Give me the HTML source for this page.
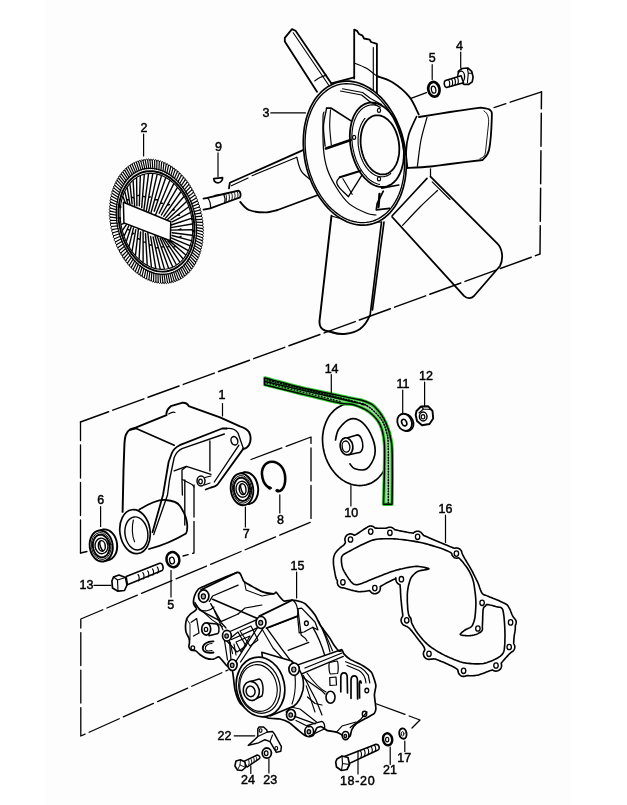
<!DOCTYPE html>
<html><head><meta charset="utf-8">
<style>
html,body{margin:0;padding:0;background:#fff;width:627px;height:805px;overflow:hidden}
svg{display:block;will-change:transform}
text{font-family:"Liberation Sans",sans-serif;font-size:12.5px;fill:#000;stroke:#000;stroke-width:0.45px;text-anchor:middle}
</style></head><body>
<svg width="627" height="805" viewBox="0 0 627 805">
<rect width="627" height="805" fill="#fff"/>
<rect x="46" y="0" width="525" height="805" fill="#fdfdfd"/>
<g fill="none" stroke="#000" stroke-width="1.4" stroke-linecap="round" stroke-linejoin="round">

<!-- ===== DASHED LINES ===== -->
<g stroke-dasharray="33 4.5" stroke-width="1.3">
<path d="M541.5,91.8 L494,107.6"/>
<path d="M426.5,92.6 L411,98.4" stroke-dasharray="none"/>
<path d="M80.5,553 L80.5,422" stroke-dasharray="33 4.5" />
<path d="M80.5,553 L87,551.5" stroke-dasharray="none"/>
<path d="M194,484 L194,553 L183,556"/>
<path d="M251,459.5 L311,437 L311,522 L80.8,619 L80.8,736 L228,670"/>
<path d="M374,703 L420,720 L412,728"/>
</g>

<path d="M143.0,169.6 L140.8,161.2 M141.1,170.1 L138.6,161.9 M139.2,170.8 L136.5,162.7 M137.4,171.6 L134.4,163.6 M135.7,172.6 L132.3,164.7 M134.0,173.7 L130.4,166.0 M132.3,174.8 L128.5,167.4 M130.7,176.2 L126.6,168.9 M129.2,177.6 L124.9,170.6 M127.8,179.1 L123.2,172.4 M126.4,180.8 L121.6,174.3 M125.1,182.6 L120.1,176.3 M123.9,184.4 L118.7,178.5 M122.8,186.4 L117.4,180.7 M121.7,188.4 L116.2,183.1 M120.8,190.5 L115.0,185.6 M119.9,192.7 L114.0,188.1 M119.1,195.0 L113.1,190.8 M118.5,197.4 L112.4,193.5 M117.9,199.8 L111.7,196.3 M117.4,202.2 L111.1,199.2 M117.0,204.7 L110.7,202.1 M116.7,207.3 L110.4,205.0 M116.6,209.9 L110.2,208.0 M116.5,212.5 L110.1,211.1 M116.5,215.2 L110.1,214.2 M116.7,217.8 L110.3,217.2 M116.9,220.5 L110.5,220.3 M117.2,223.2 L110.9,223.4 M117.7,225.8 L111.4,226.5 M118.2,228.5 L112.1,229.6 M118.8,231.1 L112.8,232.7 M119.6,233.7 L113.6,235.7 M120.4,236.3 L114.6,238.7 M121.3,238.8 L115.7,241.7 M122.3,241.3 L116.8,244.6 M123.4,243.8 L118.1,247.4 M124.6,246.2 L119.5,250.2 M125.8,248.5 L120.9,252.9 M127.2,250.8 L122.5,255.5 M128.6,252.9 L124.1,258.0 M130.1,255.0 L125.8,260.4 M131.6,257.0 L127.6,262.8 M133.2,259.0 L129.5,265.0 M134.9,260.8 L131.5,267.1 M136.7,262.5 L133.5,269.1 M138.4,264.1 L135.5,271.0 M140.3,265.6 L137.7,272.7 M142.1,267.0 L139.8,274.4 M144.0,268.3 L142.0,275.8 M146.0,269.5 L144.3,277.2 M147.9,270.5 L146.6,278.4 M149.9,271.4 L148.9,279.4 M151.9,272.2 L151.2,280.3 M153.9,272.8 L153.5,281.1 M156.0,273.3 L155.9,281.7 M158.0,273.7 L158.2,282.1 M160.0,274.0 L160.6,282.4 M162.0,274.1 L162.9,282.5 M164.0,274.1 L165.2,282.5 M166.0,273.9 L167.5,282.3 M167.9,273.6 L169.8,282.0 M169.8,273.2 L172.0,281.5 M171.7,272.6 L174.2,280.8 M173.6,271.9 L176.3,280.0 M175.4,271.1 L178.4,279.1 M177.1,270.1 L180.5,278.0 M178.8,269.1 L182.4,276.7 M180.5,267.9 L184.3,275.4 M182.1,266.6 L186.2,273.8 M183.6,265.1 L187.9,272.2 M185.0,263.6 L189.6,270.4 M186.4,261.9 L191.2,268.4 M187.7,260.2 L192.7,266.4 M188.9,258.3 L194.1,264.3 M190.0,256.4 L195.4,262.0 M191.1,254.3 L196.6,259.6 M192.0,252.2 L197.8,257.2 M192.9,250.0 L198.8,254.6 M193.7,247.7 L199.7,251.9 M194.3,245.4 L200.4,249.2 M194.9,243.0 L201.1,246.4 M195.4,240.5 L201.7,243.6 M195.8,238.0 L202.1,240.6 M196.1,235.4 L202.4,237.7 M196.2,232.8 L202.6,234.7 M196.3,230.2 L202.7,231.6 M196.3,227.6 L202.7,228.6 M196.1,224.9 L202.5,225.5 M195.9,222.2 L202.3,222.4 M195.6,219.6 L201.9,219.3 M195.1,216.9 L201.4,216.2 M194.6,214.2 L200.7,213.1 M194.0,211.6 L200.0,210.0 M193.2,209.0 L199.2,207.0 M192.4,206.4 L198.2,204.0 M191.5,203.9 L197.1,201.1 M190.5,201.4 L196.0,198.2 M189.4,198.9 L194.7,195.3 M188.2,196.5 L193.3,192.6 M187.0,194.2 L191.9,189.9 M185.6,192.0 L190.3,187.2 M184.2,189.8 L188.7,184.7 M182.7,187.7 L187.0,182.3 M181.2,185.7 L185.2,179.9 M179.6,183.8 L183.3,177.7 M177.9,181.9 L181.3,175.6 M176.1,180.2 L179.3,173.6 M174.4,178.6 L177.3,171.7 M172.5,177.1 L175.1,170.0 M170.7,175.7 L173.0,168.4 M168.8,174.4 L170.8,166.9 M166.8,173.3 L168.5,165.5 M164.9,172.2 L166.2,164.3 M162.9,171.3 L163.9,163.3 M160.9,170.6 L161.6,162.4 M158.9,169.9 L159.3,161.6 M156.8,169.4 L156.9,161.0 M154.8,169.0 L154.6,160.6 M152.8,168.8 L152.2,160.3 M150.8,168.7 L149.9,160.2 M148.8,168.7 L147.6,160.2 M146.8,168.8 L145.3,160.4 M144.9,169.1 L143.0,160.7" stroke-width="1.18"/>
<path d="M140.8,161.2 Q138.9,158.8 138.6,161.9 M138.6,161.9 Q136.7,159.5 136.5,162.7 M136.5,162.7 Q134.4,160.5 134.4,163.6 M134.4,163.6 Q132.3,161.5 132.3,164.7 M132.3,164.7 Q130.2,162.8 130.4,166.0 M130.4,166.0 Q128.2,164.1 128.5,167.4 M128.5,167.4 Q126.2,165.7 126.6,168.9 M126.6,168.9 Q124.3,167.3 124.9,170.6 M124.9,170.6 Q122.5,169.1 123.2,172.4 M123.2,172.4 Q120.8,171.1 121.6,174.3 M121.6,174.3 Q119.2,173.2 120.1,176.3 M120.1,176.3 Q117.7,175.3 118.7,178.5 M118.7,178.5 Q116.2,177.7 117.4,180.7 M117.4,180.7 Q114.9,180.1 116.2,183.1 M116.2,183.1 Q113.7,182.6 115.0,185.6 M115.0,185.6 Q112.6,185.2 114.0,188.1 M114.0,188.1 Q111.6,188.0 113.1,190.8 M113.1,190.8 Q110.7,190.8 112.4,193.5 M112.4,193.5 Q110.0,193.7 111.7,196.3 M111.7,196.3 Q109.3,196.6 111.1,199.2 M111.1,199.2 Q108.8,199.7 110.7,202.1 M110.7,202.1 Q108.4,202.7 110.4,205.0 M110.4,205.0 Q108.1,205.9 110.2,208.0 M110.2,208.0 Q108.0,209.0 110.1,211.1 M110.1,211.1 Q107.9,212.2 110.1,214.2 M110.1,214.2 Q108.0,215.4 110.3,217.2 M110.3,217.2 Q108.3,218.7 110.5,220.3 M110.5,220.3 Q108.6,221.9 110.9,223.4 M110.9,223.4 Q109.1,225.2 111.4,226.5 M111.4,226.5 Q109.7,228.4 112.1,229.6 M112.1,229.6 Q110.4,231.6 112.8,232.7 M112.8,232.7 Q111.2,234.8 113.6,235.7 M113.6,235.7 Q112.1,237.9 114.6,238.7 M114.6,238.7 Q113.2,241.1 115.7,241.7 M115.7,241.7 Q114.4,244.1 116.8,244.6 M116.8,244.6 Q115.6,247.1 118.1,247.4 M118.1,247.4 Q117.0,250.1 119.5,250.2 M119.5,250.2 Q118.5,252.9 120.9,252.9 M120.9,252.9 Q120.1,255.7 122.5,255.5 M122.5,255.5 Q121.8,258.4 124.1,258.0 M124.1,258.0 Q123.5,261.0 125.8,260.4 M125.8,260.4 Q125.4,263.5 127.6,262.8 M127.6,262.8 Q127.3,265.9 129.5,265.0 M129.5,265.0 Q129.3,268.1 131.5,267.1 M131.5,267.1 Q131.4,270.3 133.5,269.1 M133.5,269.1 Q133.5,272.3 135.5,271.0 M135.5,271.0 Q135.7,274.2 137.7,272.7 M137.7,272.7 Q137.9,276.0 139.8,274.4 M139.8,274.4 Q140.2,277.6 142.0,275.8 M142.0,275.8 Q142.6,279.1 144.3,277.2 M144.3,277.2 Q144.9,280.4 146.6,278.4 M146.6,278.4 Q147.3,281.6 148.9,279.4 M148.9,279.4 Q149.7,282.6 151.2,280.3 M151.2,280.3 Q152.2,283.5 153.5,281.1 M153.5,281.1 Q154.6,284.2 155.9,281.7 M155.9,281.7 Q157.1,284.7 158.2,282.1 M158.2,282.1 Q159.5,285.1 160.6,282.4 M160.6,282.4 Q162.0,285.3 162.9,282.5 M162.9,282.5 Q164.4,285.4 165.2,282.5 M165.2,282.5 Q166.8,285.3 167.5,282.3 M167.5,282.3 Q169.2,285.0 169.8,282.0 M169.8,282.0 Q171.6,284.6 172.0,281.5 M172.0,281.5 Q173.9,284.0 174.2,280.8 M174.2,280.8 Q176.1,283.2 176.3,280.0 M176.3,280.0 Q178.4,282.3 178.4,279.1 M178.4,279.1 Q180.5,281.2 180.5,278.0 M180.5,278.0 Q182.6,280.0 182.4,276.7 M182.4,276.7 Q184.6,278.6 184.3,275.4 M184.3,275.4 Q186.6,277.1 186.2,273.8 M186.2,273.8 Q188.5,275.4 187.9,272.2 M187.9,272.2 Q190.3,273.6 189.6,270.4 M189.6,270.4 Q192.0,271.6 191.2,268.4 M191.2,268.4 Q193.6,269.6 192.7,266.4 M192.7,266.4 Q195.1,267.4 194.1,264.3 M194.1,264.3 Q196.6,265.1 195.4,262.0 M195.4,262.0 Q197.9,262.6 196.6,259.6 M196.6,259.6 Q199.1,260.1 197.8,257.2 M197.8,257.2 Q200.2,257.5 198.8,254.6 M198.8,254.6 Q201.2,254.8 199.7,251.9 M199.7,251.9 Q202.1,251.9 200.4,249.2 M200.4,249.2 Q202.8,249.1 201.1,246.4 M201.1,246.4 Q203.5,246.1 201.7,243.6 M201.7,243.6 Q204.0,243.1 202.1,240.6 M202.1,240.6 Q204.4,240.0 202.4,237.7 M202.4,237.7 Q204.7,236.9 202.6,234.7 M202.6,234.7 Q204.8,233.7 202.7,231.6 M202.7,231.6 Q204.9,230.5 202.7,228.6 M202.7,228.6 Q204.8,227.3 202.5,225.5 M202.5,225.5 Q204.5,224.0 202.3,222.4 M202.3,222.4 Q204.2,220.8 201.9,219.3 M201.9,219.3 Q203.7,217.6 201.4,216.2 M201.4,216.2 Q203.1,214.3 200.7,213.1 M200.7,213.1 Q202.4,211.1 200.0,210.0 M200.0,210.0 Q201.6,207.9 199.2,207.0 M199.2,207.0 Q200.7,204.8 198.2,204.0 M198.2,204.0 Q199.6,201.7 197.1,201.1 M197.1,201.1 Q198.4,198.6 196.0,198.2 M196.0,198.2 Q197.2,195.6 194.7,195.3 M194.7,195.3 Q195.8,192.7 193.3,192.6 M193.3,192.6 Q194.3,189.8 191.9,189.9 M191.9,189.9 Q192.7,187.0 190.3,187.2 M190.3,187.2 Q191.0,184.3 188.7,184.7 M188.7,184.7 Q189.3,181.7 187.0,182.3 M187.0,182.3 Q187.4,179.2 185.2,179.9 M185.2,179.9 Q185.5,176.9 183.3,177.7 M183.3,177.7 Q183.5,174.6 181.3,175.6 M181.3,175.6 Q181.4,172.4 179.3,173.6 M179.3,173.6 Q179.3,170.4 177.3,171.7 M177.3,171.7 Q177.1,168.5 175.1,170.0 M175.1,170.0 Q174.9,166.7 173.0,168.4 M173.0,168.4 Q172.6,165.1 170.8,166.9 M170.8,166.9 Q170.2,163.6 168.5,165.5 M168.5,165.5 Q167.9,162.3 166.2,164.3 M166.2,164.3 Q165.5,161.1 163.9,163.3 M163.9,163.3 Q163.1,160.1 161.6,162.4 M161.6,162.4 Q160.6,159.3 159.3,161.6 M159.3,161.6 Q158.2,158.5 156.9,161.0 M156.9,161.0 Q155.7,158.0 154.6,160.6 M154.6,160.6 Q153.3,157.6 152.2,160.3 M152.2,160.3 Q150.8,157.4 149.9,160.2 M149.9,160.2 Q148.4,157.3 147.6,160.2 M147.6,160.2 Q146.0,157.5 145.3,160.4 M145.3,160.4 Q143.6,157.7 143.0,160.7 M143.0,160.7 Q141.2,158.2 140.8,161.2" stroke-width="0.90"/>
<path d="M142.9,169.2 L140.4,170.0 L138.1,171.0 L135.8,172.2 L133.6,173.6 L131.4,175.2 L129.4,177.0 L127.6,179.0 L125.8,181.1 L124.2,183.5 L122.7,186.0 L121.3,188.6 L120.1,191.4 L119.1,194.4 L118.2,197.4 L117.5,200.6 L116.9,203.8 L116.5,207.1 L116.3,210.5 L116.3,213.9 L116.4,217.3 L116.7,220.8 L117.2,224.3 L117.8,227.7 L118.6,231.2 L119.6,234.6 L120.7,237.9 L122.0,241.2 L123.4,244.3 L125.0,247.4 L126.7,250.4 L128.5,253.2 L130.4,255.9 L132.5,258.5 L134.6,260.9 L136.9,263.1 L139.2,265.2 L141.6,267.0 L144.1,268.7 L146.6,270.1 L149.2,271.4 L151.8,272.4 L154.4,273.3 L157.1,273.9 L159.7,274.2 L162.3,274.4 L164.9,274.3 L167.4,274.0 L169.9,273.5 L172.4,272.7 L174.7,271.8 L177.0,270.6 L179.2,269.2 L181.4,267.6 L183.4,265.8 L185.2,263.8 L187.0,261.6 L188.6,259.2 L190.1,256.7 L191.5,254.1 L192.7,251.3 L193.7,248.4 L194.6,245.3 L195.3,242.2 L195.9,238.9 L196.3,235.6 L196.5,232.2 L196.5,228.8 L196.4,225.4 L196.1,221.9 L195.6,218.4 L195.0,215.0 L194.2,211.6 L193.2,208.2 L192.1,204.8 L190.8,201.6 L189.4,198.4 L187.8,195.3 L186.1,192.4 L184.3,189.5 L182.4,186.8 L180.3,184.3 L178.2,181.9 L175.9,179.6 L173.6,177.6 L171.1,175.7 L168.7,174.0 L166.2,172.6 L163.6,171.3 L161.0,170.3 L158.4,169.5 L155.7,168.9 L153.1,168.5 L150.5,168.3 L147.9,168.4 L145.4,168.7 Z" stroke-width="1.23" />
<path d="M143.6,172.0 L141.3,172.7 L139.0,173.7 L136.9,174.8 L134.8,176.1 L132.8,177.6 L130.9,179.3 L129.1,181.2 L127.4,183.3 L125.9,185.5 L124.5,187.9 L123.2,190.4 L122.0,193.0 L121.1,195.8 L120.2,198.7 L119.5,201.7 L119.0,204.7 L118.6,207.9 L118.4,211.1 L118.4,214.3 L118.5,217.6 L118.8,220.8 L119.3,224.1 L119.9,227.4 L120.6,230.6 L121.5,233.9 L122.6,237.0 L123.8,240.1 L125.2,243.1 L126.6,246.0 L128.2,248.8 L130.0,251.5 L131.8,254.1 L133.8,256.5 L135.8,258.8 L137.9,260.9 L140.2,262.8 L142.4,264.6 L144.8,266.2 L147.2,267.5 L149.6,268.7 L152.1,269.7 L154.5,270.5 L157.0,271.1 L159.5,271.4 L162.0,271.6 L164.4,271.5 L166.8,271.2 L169.2,270.7 L171.5,270.0 L173.8,269.1 L175.9,267.9 L178.0,266.6 L180.0,265.1 L181.9,263.4 L183.7,261.5 L185.4,259.5 L186.9,257.2 L188.3,254.9 L189.6,252.3 L190.8,249.7 L191.7,246.9 L192.6,244.0 L193.3,241.1 L193.8,238.0 L194.2,234.9 L194.4,231.7 L194.4,228.4 L194.3,225.2 L194.0,221.9 L193.5,218.6 L192.9,215.3 L192.2,212.1 L191.3,208.9 L190.2,205.7 L189.0,202.6 L187.6,199.6 L186.2,196.7 L184.6,193.9 L182.8,191.2 L181.0,188.6 L179.0,186.2 L177.0,184.0 L174.9,181.8 L172.6,179.9 L170.4,178.1 L168.0,176.6 L165.6,175.2 L163.2,174.0 L160.7,173.0 L158.3,172.2 L155.8,171.7 L153.3,171.3 L150.8,171.2 L148.4,171.2 L146.0,171.5 Z" stroke-width="1.93" />
<path d="M144.2,174.2 L141.9,174.9 L139.8,175.7 L137.7,176.8 L135.7,178.1 L133.8,179.5 L132.0,181.2 L130.3,183.0 L128.7,184.9 L127.2,187.1 L125.9,189.3 L124.6,191.7 L123.5,194.3 L122.6,196.9 L121.8,199.7 L121.1,202.5 L120.6,205.5 L120.3,208.5 L120.1,211.5 L120.1,214.6 L120.2,217.7 L120.5,220.9 L120.9,224.0 L121.5,227.1 L122.2,230.2 L123.1,233.3 L124.1,236.3 L125.2,239.3 L126.5,242.2 L127.9,244.9 L129.5,247.6 L131.1,250.2 L132.9,252.6 L134.8,255.0 L136.7,257.1 L138.7,259.1 L140.9,261.0 L143.0,262.7 L145.3,264.2 L147.6,265.5 L149.9,266.7 L152.2,267.6 L154.6,268.4 L157.0,268.9 L159.4,269.2 L161.7,269.4 L164.1,269.3 L166.4,269.0 L168.6,268.5 L170.9,267.9 L173.0,267.0 L175.1,265.9 L177.1,264.6 L179.0,263.2 L180.8,261.6 L182.5,259.8 L184.1,257.8 L185.6,255.7 L186.9,253.4 L188.2,251.0 L189.3,248.4 L190.2,245.8 L191.0,243.0 L191.7,240.2 L192.2,237.3 L192.5,234.3 L192.7,231.2 L192.7,228.1 L192.6,225.0 L192.3,221.9 L191.9,218.7 L191.3,215.6 L190.6,212.5 L189.7,209.4 L188.7,206.4 L187.6,203.4 L186.3,200.6 L184.9,197.8 L183.3,195.1 L181.7,192.5 L179.9,190.1 L178.0,187.8 L176.1,185.6 L174.1,183.6 L171.9,181.7 L169.8,180.0 L167.5,178.5 L165.2,177.2 L162.9,176.1 L160.6,175.1 L158.2,174.4 L155.8,173.8 L153.4,173.5 L151.1,173.4 L148.7,173.4 L146.4,173.7 Z" stroke-width="1.12" />
<path d="M194.4,231.2 L192.7,230.7 M193.6,219.2 L192.0,219.3" stroke-width="2.06" />
<path d="M118.8,206.3 L120.5,207.0 M118.6,218.1 L120.2,218.3" stroke-width="2.06" />
<path d="M144.3,174.8 L141.7,207.6 M142.6,196.1 l2.2,0.6 M140.3,176.2 L139.3,205.7 M136.6,178.2 L136.9,205.7 M136.8,196.1 l2.4,-0.9 M133.1,180.9 L134.6,205.7 M130.0,184.2 L132.1,203.9 M131.4,197.0 l2.1,0.8 M127.3,188.0 L130.0,204.8 M125.0,192.3 L127.6,203.5 M126.7,199.6 l1.7,0.1 M123.1,197.0 L125.3,202.8 M121.4,224.4 L124.5,223.1 M123.4,223.6 l1.7,-0.4 M122.6,230.1 L126.4,224.6 M124.3,235.7 L128.8,225.7 M127.2,229.2 l1.7,0.6 M126.5,241.0 L131.4,226.0 M129.1,246.1 L133.5,227.9 M132.0,234.3 l1.6,-1.0 M132.1,250.8 L135.8,229.6 M135.5,255.0 L138.4,229.1 M137.4,238.2 l1.7,1.0 M139.1,258.8 L140.6,232.0 M143.1,262.0 L143.1,231.2 M143.1,242.0 l2.5,0.1 M147.2,264.7 L145.5,233.5 M151.4,266.7 L147.8,232.8 M149.1,244.7 l2.4,0.4 M155.7,268.0 L150.6,236.4 M160.1,268.7 L153.1,237.0 M155.5,248.1 l1.8,-0.3 M164.3,268.6 L154.9,235.4 M168.5,267.9 L157.2,236.2 M161.2,247.3 l1.6,-0.4 M172.5,266.5 L160.2,238.4 M176.2,264.5 L161.7,237.5 M166.8,246.9 l2.2,-0.3 M179.7,261.8 L164.5,239.1 M182.8,258.5 L167.7,240.9 M173.0,247.0 l2.0,-0.4 M185.5,254.7 L169.5,240.9 M187.8,250.4 L171.6,240.8 M177.3,244.1 l1.6,1.0 M189.7,245.7 L170.4,237.6 M191.1,240.6 L172.0,235.5 M178.7,237.3 l2.3,-1.0 M191.9,235.2 L172.2,232.8 M192.3,229.7 L171.4,230.1 M178.7,229.9 l2.1,-1.0 M192.1,224.0 L170.7,227.6 M191.4,218.3 L171.1,225.0 M178.2,222.6 l2.5,-0.6 M190.2,212.6 L172.2,221.8 M188.5,207.0 L171.0,219.8 M177.1,215.4 l2.4,-0.3 M186.3,201.7 L167.6,219.5 M183.7,196.7 L165.6,218.1 M171.9,210.6 l2.3,-0.8 M180.7,192.0 L163.7,216.3 M177.3,187.7 L161.4,215.0 M167.0,205.4 l2.4,-0.9 M173.7,183.9 L159.2,213.3 M169.7,180.7 L155.5,215.1 M160.5,203.1 l1.8,0.2 M165.6,178.1 L154.2,211.2 M161.4,176.1 L151.1,212.3 M154.7,199.6 l2.4,0.1 M157.1,174.7 L148.7,211.4 M152.7,174.1 L146.4,210.5 M148.6,197.7 l1.7,-0.8 M148.5,174.1 L143.9,210.2" stroke-width="1.40"/>
<path d="M123.4,202.3 L170.8,221.8 L170.3,240.8 L123.9,222.9 Z" fill="#fdfdfd" stroke-width="1.46"/>
<path d="M213.8,178.6 L222.6,177.6 C222.8,180.5 220.5,182.8 218,182.8 C215.5,182.8 213.8,181 213.8,178.6 Z" stroke-width="1.67" />
<path d="M317.0,91.8 L284.8,41.5 L284.8,37.9 L292.0,29.1 L295.6,30.8 L331.4,83.4 Z" fill="#fdfdfd" stroke="none"/>
<path d="M354.2,78.6 L354.2,29.6 L376.9,43.9 L376.9,94.2 Z" fill="#fdfdfd" stroke="none"/>
<path d="M419.0,117.0 L480.6,107.6 L491.8,118.0 L489.0,150.0 L482.5,160.0 L417.0,167.0 Z" fill="#fdfdfd" stroke="none"/>
<path d="M428.5,178.4 L497.4,243.6 L503.0,258.0 L474.0,296.0 L464.0,295.8 L402.4,228.7 Z" fill="#fdfdfd" stroke="none"/>
<path d="M331.5,215.7 L320.0,328.8 L346.0,335.5 L370.0,319.0 L381.5,222.0 Z" fill="#fdfdfd" stroke="none"/>
<path d="M229.0,188.4 L229.8,182.8 L304.7,149.4 L320.7,194.0 L277.6,210.0 L264.9,212.4 L248.9,210.0 L240.2,202.0 Z" fill="#fdfdfd" stroke="none"/>
<path d="M331.0,83.0 L354.0,77.0 L377.0,76.0 L392.0,82.0 L409.0,97.0 L419.0,115.0 L408.0,138.0 L407.0,170.0 L410.0,186.0 L380.0,228.0 L330.0,215.0 Z" fill="#fdfdfd" stroke="none"/>
<path d="M331.4,83.4 C335.2,82.4 350.4,78.4 354.2,77.4" stroke-width="1.67" />
<path d="M376.9,76.2 C379.5,77.2 387.0,78.8 392.4,82.2 C397.8,85.6 404.8,91.2 409.2,96.6 C413.6,102.0 417.2,111.5 418.8,114.5" stroke-width="1.80" />
<path d="M416.6,116.5 C415.3,119.5 410.4,128.9 408.7,134.8 C406.9,140.8 406.3,146.7 406.1,152.2 C405.9,157.7 407.3,165.3 407.5,167.9" stroke-width="1.67" />
<path d="M317.0,91.8 L284.8,41.5 L284.8,37.9 L292.0,29.1 L295.6,30.8 L331.4,83.4" stroke-width="1.80" />
<path d="M293.2,32.8 L328.6,85.0" stroke-width="1.12" />
<path d="M314.7,81.0 C315.6,80.4 318.0,78.5 320.0,77.5 C322.0,76.5 325.5,75.4 326.6,75.0" stroke-width="1.12" />
<path d="M354.2,78.6 L354.2,29.6 L357.0,30.8 L359.0,34.0 L362.5,35.6 L364.0,38.5 L369.7,39.6 L371.0,42.0 L376.9,43.9 L376.9,94.2 L373.3,94.0" stroke-width="1.80" />
<path d="M373.3,47.5 L373.3,91.8" stroke-width="1.12" />
<path d="M354.2,63.0 C356.2,63.8 362.2,65.8 366.0,68.0 C369.8,70.2 375.1,74.8 376.9,76.2" stroke-width="1.12" />
<path d="M419.0,117.0 C424.2,116.2 439.7,113.6 450.0,112.0 C460.3,110.4 475.5,108.3 480.6,107.6 M480.6,107.6 C482.2,108.0 488.1,108.3 490.0,110.0 C491.9,111.7 492.0,111.3 491.8,118.0 C491.6,124.7 490.6,143.0 489.0,150.0 C487.4,157.0 483.6,158.3 482.5,160.0 M482.5,160.0 C477.1,160.7 458.6,162.9 450.0,164.0 C441.4,165.1 438.0,165.8 431.0,166.5 C424.0,167.2 411.8,167.8 407.9,168.0" stroke-width="1.80" />
<path d="M427.0,117.4 C426.0,121.2 422.6,131.9 421.0,140.0 C419.4,148.1 418.0,161.8 417.4,166.2" stroke-width="1.23" />
<path d="M430.5,168.8 L430.5,176.6" stroke-width="1.23" />
<path d="M432.2,181.8 L450,199.5" stroke-width="1.12" />
<path d="M484,111 C488,113 489,118 488.5,124 L485.5,152 C485,156 483,158 480,158.5" stroke-width="0.90" />
<path d="M430.5,176.6 L497.4,243.6 C502,248 504,258 500,266 L474,296 C471,299 467,298.5 464,295.8 L392.2,217" stroke-width="1.80" />
<path d="M427.0,178.4 C423.2,182.4 410.2,196.5 404.4,202.7 C398.6,208.9 394.2,213.6 392.2,215.8" stroke-width="1.67" />
<path d="M437.5,190.5 C434.6,193.2 425.8,201.2 420.0,207.0 C414.2,212.8 405.5,222.3 402.6,225.4" stroke-width="1.23" />
<path d="M331.5,215.7 L319.5,321 C319.2,326 321,329 325,330.5 L333,332.5" stroke-width="1.93" />
<path d="M333,332.5 C340,335 352,334.5 360,329 C365,325 368,320 369.5,316" stroke-width="1.93" />
<path d="M381.5,222 L370,316 M384,222 L372.5,310" stroke-width="1.67" />
<path d="M331.5,216.0 C335.4,217.0 346.7,221.0 355.0,222.0 C363.3,223.0 377.1,222.0 381.5,222.0" stroke-width="1.12" />
<path d="M229.0,188.4 L229.8,182.8 L304.7,149.4" stroke-width="1.80" />
<path d="M231.4,185.7 L248.1,178.0 M252.1,175.7 L296.8,157.3" stroke-width="1.12" />
<path d="M296.8,157.3 C297.6,159.7 298.7,167.4 301.6,171.7 C304.5,175.9 311.1,179.9 314.3,182.8 C317.5,185.7 319.6,188.1 320.7,189.2" stroke-width="1.23" />
<path d="M240.2,202.0 C241.6,203.3 244.8,208.3 248.9,210.0 C253.0,211.7 260.1,212.4 264.9,212.4 C269.7,212.4 275.5,210.4 277.6,210.0 L320.7,194" stroke-width="1.80" />
<path d="M203.5,198.6 L207.4,197.8 L223.7,194 L238.5,190.6 C241,192 241,196 240,197.3 L224.7,203 L210.3,208.3 L203.5,209.6" stroke-width="1.80" />
<path d="M207.4,197.8 C210,200 211,205 210.3,208.3" stroke-width="1.23" />
<path d="M223.7,194 C225,197 225.5,200 224.7,203" stroke-width="1.23" />
<path d="M225.6,193.8 C226.8,196.0 226.8,199.0 226.0,202.3 M228.5,193.2 C229.7,195.4 229.7,198.4 228.9,201.0 M231.4,192.6 C232.6,194.8 232.6,197.8 231.8,199.7 M234.2,192.1 C235.4,194.3 235.4,197.3 234.6,198.4 M237.1,191.5 C238.3,193.7 238.3,196.7 237.5,197.1" stroke-width="0.90" />
<path d="M214.6,195.3 L220,194.5" stroke-width="0.90" />
<path d="M339.5,81.9 L336.3,82.8 L333.2,83.9 L330.2,85.4 L327.2,87.1 L324.5,89.1 L321.8,91.4 L319.3,94.0 L316.9,96.8 L314.7,99.8 L312.7,103.1 L310.8,106.6 L309.2,110.3 L307.7,114.2 L306.4,118.2 L305.4,122.4 L304.5,126.7 L303.9,131.2 L303.5,135.7 L303.3,140.3 L303.3,145.0 L303.6,149.7 L304.1,154.4 L304.7,159.1 L305.6,163.8 L306.7,168.4 L308.1,173.0 L309.6,177.5 L311.3,181.8 L313.2,186.1 L315.3,190.2 L317.5,194.2 L319.9,198.0 L322.5,201.5 L325.2,204.9 L328.0,208.1 L330.9,211.0 L333.9,213.7 L337.1,216.1 L340.3,218.3 L343.5,220.1 L346.8,221.7 L350.2,223.0 L353.6,224.0 L356.9,224.7 L360.3,225.1 L363.6,225.2 L366.9,224.9 L370.2,224.4 L373.4,223.5 L376.5,222.4 L379.5,220.9 L382.4,219.2 L385.2,217.2 L387.8,214.9 L390.4,212.3 L392.7,209.5 L394.9,206.5 L396.9,203.2 L398.8,199.7 L400.5,196.0 L401.9,192.1 L403.2,188.1 L404.2,183.9 L405.1,179.6 L405.7,175.1 L406.1,170.6 L406.3,166.0 L406.3,161.3 L406.1,156.6 L405.6,151.9 L404.9,147.2 L404.0,142.5 L402.9,137.9 L401.6,133.3 L400.1,128.9 L398.3,124.5 L396.5,120.2 L394.4,116.1 L392.1,112.1 L389.7,108.4 L387.2,104.8 L384.5,101.4 L381.7,98.2 L378.7,95.3 L375.7,92.6 L372.6,90.2 L369.4,88.0 L366.1,86.2 L362.8,84.6 L359.4,83.3 L356.1,82.3 L352.7,81.6 L349.3,81.2 L346.0,81.2 L342.7,81.4 Z" fill="#fdfdfd" stroke-width="1.68"/>
<path d="M340.0,84.4 L336.9,85.2 L333.9,86.4 L331.0,87.7 L328.2,89.4 L325.5,91.4 L323.0,93.6 L320.5,96.0 L318.2,98.8 L316.1,101.7 L314.2,104.9 L312.4,108.2 L310.8,111.8 L309.4,115.5 L308.1,119.4 L307.1,123.5 L306.3,127.7 L305.7,131.9 L305.3,136.3 L305.1,140.8 L305.1,145.3 L305.4,149.8 L305.8,154.3 L306.5,158.9 L307.4,163.4 L308.4,167.9 L309.7,172.3 L311.2,176.6 L312.8,180.8 L314.6,184.9 L316.6,188.9 L318.8,192.7 L321.1,196.4 L323.6,199.9 L326.2,203.1 L328.9,206.2 L331.7,209.0 L334.7,211.6 L337.7,213.9 L340.8,216.0 L343.9,217.8 L347.1,219.3 L350.4,220.6 L353.6,221.5 L356.9,222.2 L360.1,222.6 L363.3,222.6 L366.5,222.4 L369.6,221.9 L372.7,221.1 L375.7,220.0 L378.6,218.6 L381.4,216.9 L384.1,214.9 L386.7,212.7 L389.1,210.3 L391.4,207.6 L393.5,204.6 L395.5,201.4 L397.3,198.1 L398.9,194.5 L400.3,190.8 L401.5,186.9 L402.5,182.8 L403.3,178.7 L403.9,174.4 L404.3,170.0 L404.5,165.6 L404.5,161.1 L404.3,156.5 L403.8,152.0 L403.1,147.4 L402.3,142.9 L401.2,138.4 L399.9,134.0 L398.5,129.7 L396.8,125.5 L395.0,121.4 L393.0,117.4 L390.8,113.6 L388.5,109.9 L386.0,106.5 L383.4,103.2 L380.7,100.1 L377.9,97.3 L375.0,94.7 L371.9,92.4 L368.9,90.3 L365.7,88.5 L362.5,87.0 L359.3,85.7 L356.0,84.8 L352.8,84.1 L349.5,83.8 L346.3,83.7 L343.1,83.9 Z" stroke-width="1.34" />
<path d="M368.3,102.9 L366.7,103.3 L365.1,103.9 L363.5,104.7 L362.0,105.7 L360.5,106.8 L359.2,108.1 L357.9,109.5 L356.6,111.1 L355.5,112.9 L354.5,114.7 L353.5,116.7 L352.7,118.9 L351.9,121.1 L351.3,123.4 L350.8,125.9 L350.4,128.4 L350.1,130.9 L349.9,133.6 L349.8,136.3 L349.9,139.0 L350.0,141.7 L350.3,144.5 L350.7,147.3 L351.2,150.0 L351.8,152.7 L352.5,155.4 L353.4,158.1 L354.3,160.7 L355.3,163.2 L356.4,165.7 L357.6,168.0 L358.9,170.3 L360.3,172.4 L361.7,174.4 L363.2,176.3 L364.8,178.1 L366.4,179.7 L368.0,181.2 L369.7,182.5 L371.4,183.7 L373.2,184.7 L374.9,185.5 L376.7,186.1 L378.5,186.6 L380.2,186.9 L382.0,187.0 L383.7,186.9 L385.4,186.7 L387.1,186.3 L388.7,185.6 L390.3,184.9 L391.8,183.9 L393.2,182.8 L394.6,181.5 L395.9,180.1 L397.1,178.5 L398.2,176.7 L399.3,174.8 L400.2,172.8 L401.1,170.7 L401.8,168.5 L402.4,166.1 L403.0,163.7 L403.4,161.2 L403.7,158.6 L403.8,156.0 L403.9,153.3 L403.9,150.6 L403.7,147.8 L403.4,145.1 L403.0,142.3 L402.5,139.6 L401.9,136.8 L401.2,134.1 L400.4,131.5 L399.4,128.9 L398.4,126.4 L397.3,123.9 L396.1,121.6 L394.8,119.3 L393.5,117.2 L392.0,115.1 L390.5,113.2 L389.0,111.5 L387.4,109.8 L385.7,108.4 L384.0,107.0 L382.3,105.9 L380.6,104.9 L378.8,104.1 L377.0,103.4 L375.3,103.0 L373.5,102.7 L371.8,102.6 L370.0,102.6 Z" stroke-width="1.80" />
<path d="M376.9,105.5 L376.1,105.3 L375.2,105.1 L374.4,105.0 L373.5,104.9 L372.7,104.9 L371.9,104.9 L371.0,104.9 L370.2,105.0 L369.4,105.2 L368.6,105.4 L367.8,105.6 L367.0,105.9 L366.2,106.2 L365.5,106.6 L364.7,107.0 L364.0,107.4 L363.3,107.9 L362.6,108.4 L361.9,109.0 L361.2,109.6 L360.6,110.2 L360.0,110.9 L359.3,111.6 L358.8,112.4 L358.2,113.2 L357.6,114.0 L357.1,114.9 L356.6,115.8 L356.1,116.7 L355.7,117.7 L355.2,118.7 L354.8,119.7 L354.4,120.7 L354.1,121.8 L353.8,122.9 L353.5,124.0 L353.2,125.2 L352.9,126.4 L352.7,127.5 L352.5,128.8 L352.3,130.0 L352.2,131.2 L352.1,132.5 L352.0,133.8 L351.9,135.0 L351.9,136.3 L351.9,137.6 L351.9,139.0 L352.0,140.3 L352.1,141.6 L352.2,142.9 L352.3,144.3 L352.5,145.6 L352.7,146.9 L352.9,148.2 L353.2,149.6 L353.5,150.9 L353.8,152.2 L354.1,153.5 L354.5,154.8 L354.8,156.1 L355.3,157.3 L355.7,158.6 L356.1,159.8 L356.6,161.1 L357.1,162.3 L357.7,163.5 L358.2,164.6 L358.8,165.8 L359.4,166.9 L360.0,168.0 L360.6,169.0 L361.3,170.1 L361.9,171.1 L362.6,172.1 L363.3,173.0 L364.0,174.0 L364.8,174.9 L365.5,175.7 L366.3,176.5 L367.0,177.3 L367.8,178.1 L368.6,178.8 L369.4,179.5 L370.2,180.1 L371.1,180.7 L371.9,181.3 L372.7,181.8 L373.6,182.3 L374.4,182.7 L375.3,183.1 L376.1,183.4 L377.0,183.8 L377.8,184.0 L378.7,184.2 L379.5,184.4" stroke-width="1.12" />
<path d="M375.4,115.4 L374.2,115.7 L373.0,116.0 L371.8,116.5 L370.7,117.2 L369.6,117.9 L368.5,118.8 L367.5,119.7 L366.6,120.8 L365.7,122.0 L364.9,123.3 L364.1,124.6 L363.4,126.1 L362.8,127.6 L362.2,129.3 L361.8,130.9 L361.4,132.7 L361.1,134.5 L360.8,136.3 L360.7,138.2 L360.6,140.1 L360.6,142.0 L360.7,143.9 L360.9,145.9 L361.2,147.8 L361.5,149.7 L361.9,151.6 L362.4,153.5 L363.0,155.3 L363.6,157.1 L364.3,158.8 L365.1,160.5 L366.0,162.1 L366.9,163.7 L367.8,165.1 L368.8,166.5 L369.9,167.7 L371.0,168.9 L372.1,170.0 L373.3,171.0 L374.5,171.8 L375.8,172.6 L377.0,173.2 L378.3,173.7 L379.5,174.1 L380.8,174.3 L382.0,174.4 L383.3,174.4 L384.5,174.3 L385.8,174.1 L387.0,173.7 L388.1,173.2 L389.3,172.5 L390.3,171.8 L391.4,170.9 L392.4,170.0 L393.3,168.9 L394.2,167.7 L395.0,166.4 L395.8,165.1 L396.5,163.6 L397.1,162.1 L397.7,160.5 L398.1,158.8 L398.5,157.0 L398.9,155.3 L399.1,153.4 L399.2,151.6 L399.3,149.7 L399.3,147.7 L399.2,145.8 L399.0,143.9 L398.8,141.9 L398.4,140.0 L398.0,138.1 L397.5,136.2 L396.9,134.4 L396.3,132.6 L395.6,130.9 L394.8,129.2 L394.0,127.6 L393.1,126.1 L392.1,124.6 L391.1,123.2 L390.0,122.0 L388.9,120.8 L387.8,119.7 L386.6,118.7 L385.4,117.9 L384.2,117.1 L382.9,116.5 L381.7,116.0 L380.4,115.7 L379.1,115.4 L377.9,115.3 L376.6,115.3 Z" stroke-width="1.80" />
<path d="M364.9,118.5 L364.4,119.0 L363.9,119.6 L363.5,120.3 L363.1,120.9 L362.6,121.6 L362.2,122.3 L361.9,123.0 L361.5,123.7 L361.1,124.5 L360.8,125.3 L360.5,126.1 L360.2,126.9 L359.9,127.7 L359.7,128.6 L359.4,129.4 L359.2,130.3 L359.0,131.2 L358.8,132.1 L358.6,133.1 L358.5,134.0 L358.4,134.9 L358.3,135.9 L358.2,136.9 L358.1,137.8 L358.1,138.8 L358.1,139.8 L358.1,140.8 L358.1,141.8 L358.1,142.8 L358.2,143.8 L358.2,144.8 L358.3,145.8 L358.5,146.8 L358.6,147.8 L358.8,148.7 L358.9,149.7 L359.1,150.7 L359.4,151.7 L359.6,152.7 L359.9,153.6 L360.1,154.6 L360.4,155.5 L360.7,156.5 L361.1,157.4 L361.4,158.3 L361.8,159.2 L362.2,160.1 L362.5,161.0 L363.0,161.8 L363.4,162.7 L363.8,163.5 L364.3,164.3 L364.8,165.1 L365.3,165.8 L365.8,166.6 L366.3,167.3 L366.8,168.0 L367.3,168.7 L367.9,169.3 L368.4,170.0 L369.0,170.6 L369.6,171.1 L370.2,171.7 L370.8,172.2 L371.4,172.7 L372.0,173.2 L372.6,173.7 L373.2,174.1 L373.9,174.5 L374.5,174.8 L375.1,175.2 L375.8,175.5 L376.4,175.7 L377.1,176.0 L377.7,176.2 L378.4,176.4 L379.0,176.5 L379.7,176.6 L380.3,176.7 L381.0,176.8 L381.6,176.8 L382.3,176.8 L382.9,176.8 L383.6,176.7 L384.2,176.6 L384.8,176.5 L385.5,176.3 L386.1,176.1 L386.7,175.9 L387.3,175.7 L387.9,175.4 L388.5,175.1 L389.0,174.7 L389.6,174.4 L390.2,174.0 L390.7,173.5" stroke-width="1.12" />
<ellipse cx="379" cy="110.4" rx="1.6" ry="2" stroke-width="1.23"/>
<ellipse cx="354.1" cy="137.4" rx="1.6" ry="2" stroke-width="1.23"/>
<ellipse cx="379" cy="178.9" rx="1.6" ry="2" stroke-width="1.23"/>
<path d="M324.0,112.0 C323.8,113.0 323.1,111.8 323.0,118.0 C322.9,124.2 322.8,140.7 323.5,149.3 C324.2,157.9 325.2,163.1 327.4,169.5 C329.6,175.9 333.1,182.3 336.7,188.0 C340.3,193.7 344.1,199.4 349.0,203.6 C353.9,207.8 361.7,211.1 366.2,213.0 C370.7,214.9 374.4,214.7 376.0,215.0" stroke-width="1.23" />
<path d="M326.6,108.2 L331.3,108.2 L350.7,120.6" stroke-width="1.67" />
<path d="M326.6,108.2 C326.1,111.2 323.8,119.7 323.5,126.0 C323.2,132.3 324.8,142.8 325.1,146.2" stroke-width="1.34" />
<path d="M330.5,109.7 C330.4,112.4 329.6,120.2 329.7,126.0 C329.8,131.8 331.0,141.6 331.3,144.7" stroke-width="1.12" />
<path d="M325.9,148.5 L350.7,140" stroke-width="2.58" />
<path d="M339.8,177.2 L360,171" stroke-width="2.06" />
<path d="M339.8,177.2 C339.3,178.0 336.7,180.1 336.7,181.9 C336.7,183.7 337.9,185.7 339.8,188.1 C341.8,190.5 347.0,195.2 348.4,196.6" stroke-width="1.34" />
<path d="M348.4,196.6 L361.6,175.7" stroke-width="1.34" />
<path d="M342.9,178.8 L352.2,194.3" stroke-width="1.12" />
<path d="M383.3,191.2 L377.1,203.6 L376.3,209.8 L389.5,208.3" stroke-width="1.67" />
<path d="M381.7,188.1 L398.8,185" stroke-width="1.67" />
<path d="M379.5,194 L378.5,207" stroke-width="2.32" />
<path d="M340.5,91 L361.6,95 L369.3,101.2 L380.2,107.4" stroke-width="1.23" />
<path d="M342.5,88.8 L362.6,92.5 L370.5,98.5 L381.5,104.5" stroke-width="1.12" />
<ellipse cx="433.9" cy="89.3" rx="5.6" ry="7.4" stroke-width="2.69" transform="rotate(-12 433.9 89.3)"/>
<ellipse cx="433.6" cy="89.6" rx="2.2" ry="3.6" stroke-width="1.23" transform="rotate(-12 433.6 89.6)"/>
<path d="M458.3,71.4 L462.1,68.5 L467.8,68 L471.7,71.4 L473.1,77.1 L472.2,81.9 L468.8,84.3 L464,84.3 L460.2,81.9 L458.3,77.1 Z" fill="#fdfdfd" stroke-width="1.68"/>
<path d="M467.4,68.5 L468.3,73.3 L467.4,82.8 M468.3,73.3 L472.6,73.3" stroke-width="1.12" />
<ellipse cx="461.2" cy="76.8" rx="3.4" ry="5.6" fill="#fdfdfd" stroke-width="1.34"/>
<path d="M461.1,75.7 L445.4,80.5 C443.6,81.5 443.8,86.8 446.5,87.6 L463.5,82.8 Z" fill="#fdfdfd" stroke-width="1.57"/>
<path d="M448.7,80.2 C450.0,81.5 450.0,85.0 449.1,86.8 M451.6,79.3 C452.9,80.6 452.9,84.1 452.0,85.9 M454.4,78.5 C455.7,79.8 455.7,83.3 454.8,85.1 M457.3,77.6 C458.6,78.9 458.6,82.4 457.7,84.2" stroke-width="1.12" />
<path d="M541.5,91.8 L540,254 L80.5,422" stroke-dasharray="17 4.5 33 4.5 33 4.5 33 4.5 33 4.5 33 4.5 33 4.5 33 4.5 33 4.5 33 4.5 33 4.5 33 4.5 33 4.5 33 4.5 33 4.5 33 4.5 33 4.5 33 4.5 33 4.5 33" stroke-width="1.46"/>
<path d="M125,439.7 L128.4,430.7 L136.2,427.4 L168.6,414 L167.5,410.6 L170.8,406.2 L184.2,402.8 L188.7,406.2 L220,417.3 L246.7,428.5 L250,434 L250,443 L243.4,448.6 L216.6,484.3 L192,484.4 L187.2,525 L186,533.4 L149,549 L135,553.7 L120,540 L122.6,511.9 Z" fill="#fdfdfd" stroke="none"/>
<path d="M122.6,511.9 L123.5,470 L124.4,445 C124.8,436 126,432 130,429.5 L136.2,427.4 L166.5,415.2 C166,412 167,409.5 170.8,406.2 L182,402.8 C185,402.5 187.5,403.5 188.7,406.2 L220,417.3 L240,426.3 C244,427.5 247,429 249,432 C251,436 251,441 249,445 C247,448 245,449 243.4,448.6" stroke-width="1.93" />
<path d="M130,430 L136.2,428.5 L174.2,445.2" stroke-width="1.67" />
<path d="M168.6,414 C171,412.5 173,411.5 175,412.5" stroke-width="1.12" />
<path d="M226.6,428.5 L222.2,428.5 L179.7,445.2 C175,447.5 173,450 171.9,453 L168.6,462 L163,495 L152.5,532.2" stroke-width="1.80" />
<path d="M224.4,434 L182,448.6 C178,450.5 176,453 174.2,457.5 L169.5,480 L167.5,495 L153.7,534.6" stroke-width="1.34" />
<path d="M226.6,428.5 C232,428 236,430 238,433 L243.4,448.6" stroke-width="1.34" />
<path d="M243.4,448.6 L217.7,484.3 C216,486.5 214,487 211,487.5 L205.7,489.5" stroke-width="1.80" />
<path d="M238.9,445.2 L214.3,482" stroke-width="1.34" />
<ellipse cx="234.4" cy="440.8" rx="3.3" ry="4.3" stroke-width="1.46" transform="rotate(-20 234.4 440.8)"/>
<path d="M209.9,440.8 L209.9,470.9" stroke-width="1.34" />
<path d="M174.2,470.9 L186.4,466.4 L211,474.3" stroke-width="1.34" />
<path d="M186.4,466.4 L182,470 L182,478.7 L182.4,495" stroke-width="1.34" />
<path d="M182.4,479.6 L192,484.4 L194,487" stroke-width="1.12" />
<ellipse cx="201" cy="481" rx="4" ry="5" fill="#fdfdfd" stroke-width="1.46"/>
<ellipse cx="200.5" cy="481.5" rx="1.8" ry="2.3" stroke-width="1.23"/>
<path d="M205,477.5 L211,476 M204.5,485 L210,483" stroke-width="1.12" />
<path d="M139.4,509.5 C150,503 160,499.5 165.7,500 C172,500.5 178,503 180,505.9 C184,512 187,520 187.2,525 C187.5,530 187,532 186,533.4 C175,540 160,546 149,549" stroke-width="1.80" />
<path d="M184.8,480 L184.8,525" stroke-width="1.34" />
<ellipse cx="135" cy="531.6" rx="15.1" ry="22.1" fill="#fdfdfd" stroke-width="1.68" transform="rotate(-8 135 531.6)"/>
<ellipse cx="136.4" cy="533.4" rx="11.4" ry="16.6" stroke-width="1.46" transform="rotate(-8 136.4 533.4)"/>
<path d="M133.4,520 C131.8,526 131.8,536 134.6,541.8" stroke-width="1.12" />
<g transform="rotate(-8 101.2 546)">
<ellipse cx="105.7" cy="545.5" rx="11.5" ry="15.6" fill="#fdfdfd" stroke-width="1.90"/>
<path d="M101.2,530.4 L105.7,529.9 M101.2,561.6 L105.7,561.1" stroke-width="1.34"/>
<ellipse cx="101.2" cy="546" rx="11.5" ry="15.6" fill="#fdfdfd" stroke-width="1.90"/>
<ellipse cx="101.2" cy="546" rx="9.89" ry="13.572" stroke-width="0.90"/>
<ellipse cx="101.2" cy="546" rx="8.28" ry="11.388" stroke-width="2.02" stroke-dasharray="1.2 1.3"/>
<ellipse cx="101.5" cy="546" rx="6.44" ry="7.8" stroke-width="1.34"/>
<ellipse cx="101.8" cy="546" rx="3.4499999999999997" ry="5.304" stroke-width="1.46"/>
<path d="M100.42,541.32 C99.5,544.44 100.64999999999999,549.12 102.375,550.992" stroke-width="1.46"/>
</g>
<g transform="rotate(-8 242 489.3)">
<ellipse cx="247" cy="488.8" rx="11.2" ry="16" fill="#fdfdfd" stroke-width="1.90"/>
<path d="M242,473.3 L247,472.8 M242,505.3 L247,504.8" stroke-width="1.34"/>
<ellipse cx="242" cy="489.3" rx="11.2" ry="16" fill="#fdfdfd" stroke-width="1.90"/>
<ellipse cx="242" cy="489.3" rx="9.632" ry="13.92" stroke-width="0.90"/>
<ellipse cx="242" cy="489.3" rx="8.064" ry="11.68" stroke-width="2.02" stroke-dasharray="1.2 1.3"/>
<ellipse cx="242.3" cy="489.3" rx="6.272" ry="8.0" stroke-width="1.34"/>
<ellipse cx="242.6" cy="489.3" rx="3.36" ry="5.44" stroke-width="1.46"/>
<path d="M241.256,484.5 C240.35999999999999,487.7 241.48,492.5 243.16,494.42" stroke-width="1.46"/>
</g>
<path d="M269.5,488 C262,484 260,472 264,466 C268,460 276,460.5 281,466 C287,473 286,485 282,489.5 C280.5,491 279,491.5 277.5,491" stroke-width="2.58"/>
<ellipse cx="269.8" cy="488" rx="1.6" ry="1.3" fill="#000" stroke-width="0.80"/>
<ellipse cx="277.3" cy="490.6" rx="1.6" ry="1.3" fill="#000" stroke-width="0.80"/>
<ellipse cx="172.9" cy="559.6" rx="6.4" ry="7.6" fill="#fdfdfd" stroke-width="2.46" transform="rotate(-15 172.9 559.6)"/>
<ellipse cx="172" cy="560.6" rx="2.4" ry="3.4" stroke-width="1.23" transform="rotate(-15 172 560.6)"/>
<path d="M126.2,576.5 L159.7,563.3 C163,562.5 164,569 162.1,570.5 L127.4,584.8 Z" fill="#fdfdfd" stroke-width="1.57"/>
<path d="M138.0,574.5 C139.5,576.0 139.5,579.5 138.5,581.0 M142.8,572.6 C144.3,574.1 144.3,577.6 143.3,579.0 M147.6,570.8 C149.1,572.3 149.1,575.8 148.1,577.1 M152.4,568.9 C153.9,570.4 153.9,573.9 152.9,575.1 M157.2,567.0 C158.7,568.5 158.7,572.0 157.7,573.1" stroke-width="1.12" />
<path d="M113.5,577 L119,575 L125.5,577.5 L127,585 L124.5,590.5 L118,591.2 L112.5,588 L111.9,581 Z" fill="#fdfdfd" stroke-width="1.68"/>
<path d="M113.5,577 L117.5,580 L118,591.2 M117.5,580 L125.5,577.5" stroke-width="1.12" />
<path d="M345.7,404.0 L343.6,404.7 L341.6,405.4 L339.7,406.4 L337.8,407.5 L336.0,408.8 L334.3,410.2 L332.7,411.8 L331.1,413.5 L329.7,415.3 L328.4,417.3 L327.3,419.4 L326.2,421.6 L325.3,423.9 L324.5,426.3 L323.8,428.7 L323.3,431.2 L322.9,433.8 L322.6,436.4 L322.5,439.1 L322.6,441.8 L322.8,444.5 L323.1,447.2 L323.6,449.8 L324.2,452.5 L324.9,455.1 L325.8,457.7 L326.8,460.2 L327.9,462.7 L329.2,465.0 L330.5,467.3 L332.0,469.5 L333.6,471.6 L335.2,473.6 L337.0,475.4 L338.8,477.1 L340.7,478.7 L342.7,480.1 L344.8,481.4 L346.8,482.5 L349.0,483.4 L351.1,484.2 L353.3,484.8 L355.5,485.2 L357.6,485.5 L359.8,485.6 L362.0,485.5 L364.1,485.2 L366.2,484.8 L368.3,484.1 L370.3,483.4 L372.2,482.4 L374.1,481.3 L375.9,480.0 L377.6,478.6 L379.2,477.0 L380.7,475.3 L382.1,473.5 L383.4,471.5 L384.6,469.4 L385.7,467.2 L386.6,464.9 L387.4,462.6 L388.1,460.1 L388.6,457.6 L389.0,455.0 L389.2,452.4 L389.3,449.7 L389.3,447.0 L389.1,444.3 L388.8,441.6 L388.3,439.0 L387.7,436.3 L387.0,433.7 L386.1,431.1 L385.1,428.6 L384.0,426.1 L382.7,423.8 L381.4,421.5 L379.9,419.3 L378.3,417.2 L376.7,415.2 L374.9,413.4 L373.1,411.7 L371.1,410.1 L369.2,408.7 L367.1,407.4 L365.0,406.3 L362.9,405.4 L360.8,404.6 L358.6,404.0 L356.4,403.6 L354.2,403.3 L352.1,403.2 L349.9,403.3 L347.8,403.6 Z" fill="#fdfdfd" stroke-width="1.68"/>
<path d="M349.9,463.8 C350.7,464.6 352.1,468.0 354.9,468.8 C357.7,469.6 363.5,471.1 366.8,468.8 C370.1,466.5 373.8,459.8 374.8,454.8 C375.8,449.8 374.8,444.2 372.8,438.9 C370.8,433.6 366.5,426.2 362.8,422.9 C359.1,419.6 354.9,417.9 350.9,418.9 C346.9,419.9 341.5,425.4 338.9,428.9 C336.3,432.4 336.1,438.1 335.5,440.0" stroke-width="1.67" />
<path d="M346.9,437.9 L356.9,434.9 C361,435 363,441 362.8,446.8 C362.5,451 360,453 357.9,452.8 L348.9,454.8 Z" fill="#fdfdfd" stroke-width="1.57"/>
<ellipse cx="346.5" cy="446.3" rx="6.3" ry="8.6" fill="#fdfdfd" stroke-width="1.68" transform="rotate(-10 346.5 446.3)"/>
<ellipse cx="346" cy="446.6" rx="3.8" ry="5.6" stroke-width="1.34" transform="rotate(-10 346 446.6)"/>
<path d="M264.7,378.0 C272.2,379.9 295.3,386.1 310.0,389.5 C324.7,392.9 343.8,396.5 352.8,398.4 C361.8,400.3 360.4,399.6 364.0,401.0 C367.6,402.4 370.9,402.9 374.5,406.5 C378.1,410.1 383.0,416.6 385.8,422.6 C388.6,428.6 390.4,434.7 391.5,442.6 C392.6,450.5 392.2,459.7 392.3,470.0 C392.4,480.3 392.1,498.5 392.0,504.2 L383.5,504.2 C383.6,498.5 384.3,480.3 384.4,470.0 C384.5,459.7 385.0,450.2 384.3,442.6 C383.6,435.0 382.6,429.7 380.0,424.5 C377.4,419.3 373.0,414.8 368.5,411.5 C364.0,408.2 357.4,405.9 352.8,404.5 C348.2,403.1 349.4,405.0 340.6,403.2 C331.8,401.4 312.6,396.6 300.0,393.5 C287.4,390.4 270.6,386.2 264.7,384.7 Z" fill="#9fe39f" stroke="#3c3" stroke-width="3.36"/>
<path d="M266.0,381.4 C281.0,384.9 341.2,399.1 356.2,402.6" stroke="#2a2" stroke-width="2.46"/>
<path d="M267.0,380.0 C281.2,383.5 335.2,396.6 352.0,401.0 C368.8,405.4 363.2,403.5 368.0,406.5 C372.8,409.5 377.9,414.8 381.0,419.0 C384.1,423.2 385.3,427.5 386.5,432.0 C387.7,436.5 387.9,434.2 388.2,446.0 C388.5,457.8 388.3,493.5 388.3,503.0" stroke="#000" stroke-width="1.57" stroke-dasharray="0.9 1.9"/>
<path d="M267.0,383.0 C279.2,386.1 327.8,398.4 340.0,401.5" stroke="#000" stroke-width="1.34" stroke-dasharray="0.9 2.2"/>
<path d="M264.7,378.0 C272.2,379.9 295.3,386.1 310.0,389.5 C324.7,392.9 343.8,396.5 352.8,398.4 C361.8,400.3 360.4,399.6 364.0,401.0 C367.6,402.4 370.9,402.9 374.5,406.5 C378.1,410.1 383.0,416.6 385.8,422.6 C388.6,428.6 390.4,434.7 391.5,442.6 C392.6,450.5 392.2,459.7 392.3,470.0 C392.4,480.3 392.1,498.5 392.0,504.2 L383.5,504.2 C383.6,498.5 384.3,480.3 384.4,470.0 C384.5,459.7 385.0,450.2 384.3,442.6 C383.6,435.0 382.6,429.7 380.0,424.5 C377.4,419.3 373.0,414.8 368.5,411.5 C364.0,408.2 357.4,405.9 352.8,404.5 C348.2,403.1 349.4,405.0 340.6,403.2 C331.8,401.4 312.6,396.6 300.0,393.5 C287.4,390.4 270.6,386.2 264.7,384.7 Z" stroke="#000" stroke-width="1.46"/>
<path d="M264.7,381.4 C279.9,384.9 340.0,398.8 356.2,402.6 C372.4,406.5 361.0,404.2 362.0,404.5" stroke="#000" stroke-width="1.34"/>
<ellipse cx="406.2" cy="422.6" rx="7" ry="8.8" fill="#fdfdfd" stroke-width="1.68" transform="rotate(-25 406.2 422.6)"/>
<ellipse cx="404.6" cy="422.3" rx="7" ry="8.8" fill="#fdfdfd" stroke-width="1.79" transform="rotate(-25 404.6 422.3)"/>
<ellipse cx="404.2" cy="422.6" rx="2.4" ry="3.4" stroke-width="1.57" transform="rotate(-25 404.2 422.6)"/>
<path d="M416.5,411 L421,406.5 L428,406.2 L432.5,411 L433.2,418.5 L429.5,424 L422,425.2 L417,421 L415.7,415 Z" fill="#fdfdfd" stroke-width="1.90"/>
<path d="M421,406.5 L423.5,409 L431,409.5 M423.5,409 L419,413" stroke-width="1.12" />
<ellipse cx="423.2" cy="416.5" rx="3.8" ry="4.4" stroke-width="1.46"/>
<ellipse cx="423" cy="416.8" rx="1.8" ry="2.2" stroke-width="1.12"/>
<path d="M334.6,554.5 L334.9,553.8 L335.3,553.1 L335.8,552.5 L336.2,551.9 L336.7,551.3 L337.2,550.7 L337.8,550.2 L338.3,549.6 L338.9,549.0 L339.4,548.5 L339.9,548.0 L340.5,547.5 L341.2,547.0 L341.8,546.5 L342.4,546.0 L343.1,545.6 L343.6,545.1 L344.2,544.6 L344.6,544.1 L345.0,543.5 L345.3,542.9 L345.4,542.2 L345.3,541.6 L345.1,540.9 L344.9,540.2 L344.9,539.3 L345.0,538.6 L345.1,537.9 L345.4,537.3 L345.6,536.8 L345.9,536.3 L346.2,535.9 L346.5,535.5 L346.9,535.2 L347.3,534.9 L347.8,534.6 L348.3,534.4 L348.8,534.2 L349.4,534.0 L349.9,533.9 L350.4,533.9 L350.9,533.9 L351.4,534.0 L351.9,534.1 L352.4,534.2 L353.0,534.5 L353.4,534.7 L353.9,535.0 L354.3,535.3 L355.0,535.0 L355.9,534.6 L356.9,534.0 L358.0,533.3 L359.2,532.5 L360.4,531.7 L361.6,530.9 L362.7,530.1 L363.8,529.3 L364.8,528.7 L365.7,528.2 L366.4,527.8 L367.0,527.4 L367.4,527.1 L367.9,526.8 L368.3,526.6 L368.7,526.4 L369.1,526.2 L369.5,526.1 L370.0,526.0 L370.5,526.0 L371.0,526.0 L371.4,526.1 L371.9,526.1 L372.3,526.2 L372.8,526.4 L373.3,526.6 L373.7,526.9 L374.2,527.2 L374.6,527.6 L375.0,528.0 L375.8,528.1 L376.7,528.1 L377.7,528.2 L378.8,528.2 L379.9,528.2 L381.0,528.2 L382.1,528.2 L383.1,528.2 L384.0,528.2 L384.8,528.2 L385.5,528.2 L386.1,528.1 L386.6,528.0 L387.1,527.9 L387.5,527.7 L387.9,527.6 L388.3,527.4 L388.7,527.3 L389.1,527.3 L389.6,527.2 L390.0,527.2 L390.4,527.2 L390.7,527.3 L391.0,527.3 L391.4,527.4 L391.9,527.6 L392.5,527.8 L393.2,528.3 L393.9,528.8 L394.5,529.6 L395.7,529.9 L397.4,530.3 L399.2,530.7 L401.2,531.1 L403.4,531.5 L405.5,531.9 L407.5,532.3 L409.3,532.6 L411.0,532.8 L412.3,533.0 L413.3,533.1 L413.8,532.7 L414.3,532.3 L414.7,532.0 L415.2,531.8 L415.5,531.6 L415.9,531.5 L416.2,531.4 L416.6,531.3 L417.0,531.2 L417.4,531.2 L417.6,531.2 L417.6,531.2 L417.7,531.2 L417.7,531.2 L418.0,531.2 L418.6,531.3 L419.6,531.6 L421.1,532.4 L422.4,534.0 L423.6,535.4 L426.3,536.6 L429.5,538.0 L433.0,539.5 L436.6,541.0 L440.3,542.6 L443.8,544.0 L447.0,545.3 L449.7,546.5 L451.8,547.3 L453.3,547.9 L454.4,548.2 L455.1,548.2 L455.5,548.1 L455.8,548.0 L455.9,548.0 L455.9,548.0 L456.0,547.9 L456.2,547.9 L456.5,548.0 L456.9,548.0 L457.4,548.1 L457.9,548.2 L458.3,548.3 L458.8,548.5 L459.2,548.8 L459.6,549.0 L460.1,549.4 L460.5,549.8 L460.9,550.2 L461.2,550.7 L461.5,551.3 L461.7,551.8 L461.9,552.4 L462.0,553.0 L462.2,553.6 L462.5,554.3 L462.9,555.1 L463.3,556.0 L463.8,556.9 L464.4,558.0 L465.1,559.2 L465.9,560.5 L466.7,561.8 L467.6,563.3 L468.4,564.7 L469.3,566.2 L470.2,567.7 L471.0,569.1 L471.7,570.4 L472.4,571.7 L473.1,573.0 L473.7,574.3 L474.4,575.5 L475.0,576.8 L475.6,578.0 L476.2,579.3 L476.8,580.5 L477.4,581.6 L477.9,582.8 L478.4,584.0 L478.8,585.1 L479.2,586.3 L479.6,587.5 L480.0,588.6 L480.4,589.7 L480.8,590.7 L481.2,591.6 L481.6,592.5 L482.1,593.2 L482.6,593.8 L483.0,594.2 L483.5,594.5 L483.9,594.8 L484.4,595.0 L485.0,595.1 L485.6,595.3 L486.4,595.5 L487.2,595.9 L488.3,596.3 L489.6,596.9 L491.2,597.5 L492.9,598.3 L494.8,599.0 L496.7,599.8 L498.7,600.6 L500.5,601.4 L502.2,602.2 L503.7,602.9 L504.9,603.5 L505.8,604.0 L506.5,604.5 L507.1,604.9 L507.5,605.2 L507.8,605.6 L508.0,605.9 L508.2,606.3 L508.4,606.7 L508.7,607.2 L509.0,607.7 L509.4,608.3 L509.7,609.0 L510.0,609.7 L510.4,610.5 L510.7,611.3 L511.0,612.1 L511.3,612.8 L511.6,613.6 L511.9,614.3 L512.2,615.0 L512.5,615.6 L512.8,616.2 L513.1,616.7 L513.4,617.2 L513.7,617.7 L514.1,618.0 L514.5,618.4 L514.9,618.9 L515.3,619.4 L515.7,620.1 L516.0,620.9 L516.2,621.8 L516.2,622.8 L516.0,623.7 L515.8,624.5 L515.4,625.2 L515.3,626.0 L515.3,626.8 L515.3,627.6 L515.3,628.4 L515.3,629.2 L515.2,629.9 L515.1,630.7 L515.0,631.4 L514.8,632.2 L514.7,632.9 L514.6,633.7 L514.4,634.5 L514.3,635.2 L514.2,636.0 L514.1,636.8 L514.0,637.6 L514.0,638.4 L513.9,639.2 L513.8,640.1 L513.8,640.9 L513.7,641.7 L513.7,642.5 L513.6,643.3 L513.8,643.8 L514.1,644.3 L514.4,645.0 L514.7,645.8 L514.8,646.7 L514.8,647.6 L514.6,648.5 L514.3,649.3 L514.0,650.0 L513.5,650.6 L513.0,651.1 L512.5,651.5 L512.0,651.8 L511.5,652.1 L511.1,652.4 L510.6,652.8 L510.2,653.3 L509.7,653.7 L509.1,654.2 L508.6,654.8 L508.0,655.4 L507.4,656.1 L506.7,656.9 L505.9,657.7 L505.1,658.6 L504.3,659.5 L503.5,660.5 L502.7,661.3 L502.0,662.2 L501.3,663.0 L501.2,663.5 L501.4,664.0 L501.5,664.7 L501.6,665.6 L501.5,666.6 L501.2,667.6 L500.7,668.6 L500.0,669.4 L499.3,670.0 L498.5,670.5 L497.7,670.8 L496.9,671.0 L496.2,671.1 L495.6,671.1 L495.0,671.0 L494.4,670.9 L493.8,670.7 L493.3,670.4 L492.8,670.1 L492.3,669.9 L491.4,670.2 L490.4,670.6 L489.2,671.0 L487.8,671.6 L486.4,672.1 L484.9,672.7 L483.5,673.3 L482.0,673.8 L480.5,674.3 L479.2,674.8 L477.9,675.1 L476.7,675.3 L475.5,675.5 L474.4,675.6 L473.3,675.7 L472.2,675.7 L471.1,675.7 L470.1,675.7 L469.2,675.7 L468.3,675.6 L467.5,675.6 L466.8,675.6 L466.3,675.7 L465.8,675.9 L465.4,676.1 L465.0,676.2 L464.5,676.3 L464.1,676.4 L463.6,676.4 L462.9,676.4 L462.1,676.2 L461.2,675.9 L460.3,675.3 L459.4,674.4 L458.6,673.3 L458.2,672.1 L458.0,671.0 L458.0,670.2 L457.3,669.4 L456.3,668.6 L455.1,667.8 L453.6,667.0 L451.9,666.1 L449.9,665.2 L447.9,664.2 L445.7,663.3 L443.6,662.3 L441.5,661.5 L439.6,660.7 L437.9,660.0 L436.5,659.5 L435.4,659.1 L434.5,659.0 L433.7,658.9 L433.1,658.9 L432.6,659.0 L432.2,659.1 L431.8,659.1 L431.4,659.1 L431.0,659.0 L430.6,659.2 L430.1,659.3 L429.5,659.4 L428.7,659.4 L427.7,659.2 L426.4,658.8 L425.0,657.7 L424.0,656.2 L423.5,654.7 L423.4,653.5 L423.5,652.6 L423.7,651.9 L424.0,651.3 L424.2,650.9 L424.5,650.5 L424.8,650.1 L424.8,649.6 L424.7,649.0 L424.5,648.4 L424.3,647.8 L424.0,647.1 L423.6,646.4 L423.1,645.6 L422.6,644.9 L422.0,644.1 L421.3,643.2 L420.7,642.4 L420.0,641.5 L419.2,640.6 L418.5,639.7 L417.8,638.8 L417.0,637.8 L416.2,636.8 L415.4,635.6 L414.5,634.5 L413.6,633.3 L412.7,632.2 L411.9,631.1 L411.0,630.1 L410.2,629.2 L409.5,628.4 L408.8,627.8 L408.1,627.3 L407.5,626.9 L406.9,626.5 L406.3,626.3 L405.7,626.0 L405.2,625.7 L404.7,625.5 L404.2,625.3 L403.7,625.0 L403.1,624.6 L402.7,624.2 L402.2,623.6 L401.8,623.0 L401.4,622.1 L401.1,621.0 L401.1,619.7 L401.4,618.5 L401.9,617.4 L402.5,616.6 L402.8,615.8 L402.7,614.4 L402.5,612.9 L402.3,611.3 L402.1,609.7 L401.9,608.0 L401.7,606.3 L401.5,604.7 L401.4,603.0 L401.2,601.5 L401.1,600.0 L400.9,598.4 L400.8,596.7 L400.7,595.1 L400.6,593.5 L400.5,592.0 L400.5,590.5 L400.4,589.2 L400.3,588.0 L400.2,587.0 L400.1,586.2 L400.1,585.5 L400.0,585.0 L400.0,584.7 L399.9,584.6 L399.8,584.6 L399.6,584.5 L399.5,584.5 L399.2,584.4 L398.9,584.2 L398.5,584.0 L398.0,583.6 L397.4,583.1 L396.7,582.2 L396.1,580.9 L395.8,579.5 L395.8,578.5 L395.9,578.0 L395.9,577.9 L395.9,578.2 L395.6,578.7 L394.1,579.3 L392.4,580.1 L390.5,581.0 L388.5,582.0 L386.4,583.0 L384.5,584.1 L382.7,585.1 L381.2,586.0 L380.2,586.7 L380.3,587.3 L380.4,588.2 L380.2,589.4 L379.8,590.6 L379.3,591.5 L378.7,592.1 L378.3,592.5 L377.8,592.8 L377.4,593.0 L376.9,593.3 L376.5,593.4 L376.1,593.6 L375.7,593.6 L375.2,593.7 L374.7,593.7 L373.9,593.6 L373.0,593.4 L371.9,592.9 L371.0,592.2 L370.4,591.5 L370.0,591.0 L369.6,590.6 L368.4,590.8 L367.1,591.0 L365.7,591.2 L364.3,591.4 L362.8,591.5 L361.4,591.6 L359.9,591.7 L358.5,591.6 L357.1,591.4 L355.5,591.1 L354.0,590.8 L352.4,590.4 L350.8,590.0 L349.2,589.5 L347.7,589.1 L346.4,588.7 L345.1,588.3 L344.1,588.0 L343.2,587.9 L342.5,587.9 L341.8,587.8 L341.3,587.7 L340.9,587.5 L340.6,587.4 L340.3,587.2 L340.0,587.1 L339.7,586.9 L339.4,586.7 L339.1,586.4 L338.8,586.1 L338.5,585.7 L338.2,585.3 L337.9,584.9 L337.7,584.3 L337.5,583.8 L337.4,583.1 L337.3,582.5 L337.3,581.9 L337.4,581.5 L337.4,581.1 L337.5,580.9 L337.3,580.6 L337.1,580.2 L336.8,579.8 L336.6,579.4 L336.3,578.8 L336.0,578.1 L335.8,577.2 L335.5,576.1 L335.3,574.8 L335.0,573.4 L334.7,571.8 L334.4,570.2 L334.1,568.6 L333.9,567.0 L333.6,565.4 L333.5,564.0 L333.4,562.8 L333.4,561.7 L333.4,560.7 L333.4,559.8 L333.4,558.9 L333.6,558.1 L333.7,557.4 L333.9,556.6 L334.1,555.9 L334.3,555.2 Z" stroke-width="1.62"/>
<path d="M341.7,556.9 L342.0,556.2 L342.4,555.7 L342.8,555.1 L343.4,554.6 L344.0,554.2 L344.8,553.7 L345.7,553.2 L346.6,552.7 L347.7,552.1 L348.9,551.5 L350.4,550.7 L352.4,549.6 L354.7,548.4 L357.4,547.0 L360.1,545.6 L363.0,544.2 L365.7,542.9 L368.4,541.7 L370.8,540.8 L372.8,540.1 L374.7,539.6 L376.8,539.3 L378.9,539.0 L381.2,538.9 L383.5,538.8 L385.8,538.7 L388.1,538.7 L390.3,538.7 L392.4,538.8 L394.4,538.9 L396.5,539.0 L398.9,539.3 L401.6,539.5 L404.5,539.9 L407.4,540.3 L410.4,540.7 L413.3,541.1 L416.0,541.6 L418.5,542.1 L420.7,542.5 L422.9,543.0 L425.3,543.6 L427.8,544.3 L430.5,545.1 L433.2,545.9 L435.9,546.7 L438.5,547.5 L440.8,548.3 L442.9,549.0 L444.6,549.7 L446.2,550.4 L447.8,551.1 L449.4,551.9 L451.0,552.8 L451.8,553.7 L452.1,555.3 L454.3,557.7 L457.0,558.2 L458.2,557.8 L459.0,558.1 L460.0,559.0 L461.0,560.1 L462.1,561.3 L463.2,562.5 L464.2,563.9 L465.2,565.2 L466.2,566.5 L467.1,567.8 L467.9,569.0 L468.5,570.0 L469.1,571.0 L469.7,572.1 L470.2,573.2 L470.8,574.4 L471.4,575.6 L471.9,576.9 L472.4,578.2 L472.8,579.4 L473.2,580.7 L473.5,582.0 L473.8,583.4 L474.1,585.2 L474.4,587.2 L474.7,589.3 L475.0,591.5 L475.3,593.8 L475.5,596.0 L475.7,598.0 L475.8,599.9 L475.9,601.5 L475.9,603.0 L475.9,604.8 L475.8,606.6 L475.7,608.5 L475.6,610.4 L475.5,612.2 L475.3,614.0 L475.1,615.6 L475.0,617.0 L474.8,618.1 L474.6,619.1 L474.4,620.1 L474.1,621.0 L473.8,622.0 L473.5,622.8 L473.2,623.7 L472.8,624.5 L472.5,625.2 L472.1,625.8 L471.7,626.3 L471.2,626.8 L470.6,627.2 L470.0,627.6 L469.2,628.0 L468.4,628.3 L467.6,628.7 L466.9,629.0 L466.2,629.3 L465.5,629.7 L465.0,630.0 L464.5,630.4 L463.9,630.8 L463.2,631.3 L462.5,631.9 L461.9,632.4 L461.3,633.0 L460.8,633.5 L460.4,633.9 L460.2,634.3 L460.3,634.6 L460.6,634.8 L461.3,635.0 L462.1,635.2 L463.2,635.4 L464.3,635.5 L465.5,635.6 L466.7,635.7 L467.8,635.7 L468.8,635.7 L469.6,635.7 L470.4,635.6 L471.2,635.5 L472.1,635.4 L473.1,635.2 L474.0,635.0 L474.9,634.7 L475.8,634.5 L476.6,634.2 L477.3,633.9 L477.9,633.6 L478.4,633.3 L478.9,633.0 L479.5,632.8 L480.1,632.6 L480.6,632.2 L481.2,631.7 L481.7,631.1 L482.1,630.3 L482.4,629.4 L482.5,628.4 L482.3,627.2 L482.4,625.6 L482.5,623.6 L482.6,621.4 L482.7,619.1 L482.7,616.8 L482.8,614.6 L482.9,612.6 L483.0,611.0 L483.1,609.8 L483.3,608.9 L483.5,608.1 L483.7,607.4 L484.0,607.0 L484.5,606.7 L485.0,606.3 L485.5,605.9 L485.9,605.4 L486.1,605.0 L486.3,604.6 L486.9,604.5 L487.8,604.6 L488.8,604.7 L490.0,605.0 L491.2,605.2 L492.5,605.5 L493.7,605.9 L494.8,606.2 L495.8,606.5 L496.6,606.7 L497.3,606.9 L498.0,607.0 L498.7,607.1 L499.4,607.2 L500.1,607.3 L500.8,607.5 L501.4,607.9 L501.9,608.3 L502.4,609.0 L502.8,609.8 L503.1,611.0 L503.4,612.6 L503.7,614.6 L504.0,616.9 L504.2,619.3 L504.4,621.7 L504.6,624.2 L504.7,626.5 L504.8,628.7 L504.9,630.5 L504.9,632.3 L505.0,634.4 L505.0,636.7 L504.9,639.1 L504.9,641.5 L504.8,643.9 L504.6,646.1 L504.4,648.1 L504.2,649.9 L503.9,651.2 L503.5,652.3 L503.0,653.2 L502.4,654.1 L501.7,654.9 L500.9,655.6 L500.1,656.3 L499.2,656.9 L498.4,657.5 L497.5,658.0 L496.6,658.5 L495.6,659.0 L494.4,659.6 L493.0,660.3 L491.5,660.9 L489.9,661.5 L488.3,662.1 L486.6,662.7 L485.0,663.1 L483.5,663.5 L482.1,663.7 L480.6,663.8 L478.9,663.9 L477.0,663.9 L475.0,663.9 L473.0,663.8 L470.9,663.6 L468.8,663.4 L466.8,663.2 L465.0,662.9 L463.4,662.6 L461.8,662.2 L460.0,661.7 L458.1,661.0 L456.1,660.3 L454.0,659.5 L451.9,658.6 L449.9,657.8 L448.1,656.9 L446.3,656.1 L444.8,655.4 L443.3,654.6 L441.6,653.7 L439.9,652.7 L438.0,651.7 L436.2,650.6 L434.4,649.4 L432.6,648.3 L431.0,647.1 L429.5,646.0 L428.2,645.0 L427.0,643.9 L425.7,642.6 L424.3,641.2 L422.9,639.7 L421.5,638.1 L420.1,636.4 L418.8,634.8 L417.6,633.3 L416.6,631.8 L415.7,630.5 L414.9,629.2 L414.0,627.7 L413.2,626.0 L412.3,624.3 L411.5,622.5 L411.3,620.7 L410.9,618.5 L409.7,616.8 L408.9,615.5 L408.5,613.9 L408.2,612.2 L407.9,610.3 L407.7,608.1 L407.6,605.8 L407.4,603.4 L407.3,601.1 L407.3,598.8 L407.3,596.7 L407.3,594.8 L407.4,593.2 L407.5,591.7 L407.7,590.2 L408.0,588.5 L408.2,586.9 L408.6,585.3 L409.0,583.7 L409.4,582.2 L409.8,580.9 L410.2,579.7 L410.6,578.7 L411.1,577.8 L411.6,577.0 L412.3,576.1 L413.0,575.3 L413.8,574.5 L414.6,573.7 L415.4,573.0 L416.2,572.4 L417.0,571.8 L417.8,571.4 L418.7,571.0 L419.9,570.7 L421.3,570.4 L422.9,570.1 L424.4,569.9 L425.9,569.6 L427.2,569.4 L428.2,569.2 L428.8,569.0 L429.0,568.8 L428.7,568.6 L428.0,568.3 L426.9,568.0 L425.5,567.6 L424.0,567.3 L422.3,567.0 L420.6,566.7 L418.9,566.5 L417.3,566.4 L415.9,566.4 L414.5,566.5 L412.7,566.7 L410.8,567.0 L408.7,567.4 L406.5,567.8 L404.4,568.2 L402.2,568.7 L400.2,569.1 L398.4,569.6 L396.8,570.0 L395.3,570.4 L393.7,570.9 L392.0,571.5 L390.3,572.1 L388.5,572.8 L386.7,573.4 L385.0,574.1 L383.2,574.8 L381.6,575.4 L380.0,576.0 L378.3,576.7 L376.2,577.5 L373.8,578.5 L371.3,579.6 L368.8,580.6 L366.3,581.7 L363.9,582.6 L361.7,583.4 L359.9,584.0 L358.5,584.4 L357.4,584.6 L356.5,584.7 L355.7,584.6 L354.9,584.5 L354.2,584.3 L353.6,584.0 L353.0,583.6 L352.5,583.1 L351.9,582.6 L351.3,582.0 L350.6,581.2 L349.8,580.1 L348.8,578.9 L347.8,577.4 L346.8,575.9 L345.8,574.3 L344.9,572.7 L344.1,571.3 L343.4,569.9 L342.9,568.8 L342.5,567.7 L342.2,566.5 L341.9,565.2 L341.7,563.8 L341.5,562.5 L341.4,561.1 L341.4,559.9 L341.4,558.7 L341.5,557.7 Z" stroke-width="1.62"/>
<ellipse cx="350.5" cy="539.5" rx="2.2" ry="2.7" stroke-width="1.34"/>
<ellipse cx="370.7" cy="531.6" rx="2.2" ry="2.7" stroke-width="1.34"/>
<ellipse cx="389.9" cy="532.8" rx="2.2" ry="2.7" stroke-width="1.34"/>
<ellipse cx="417.6" cy="536.8" rx="2.2" ry="2.7" stroke-width="1.34"/>
<ellipse cx="456.4" cy="553.6" rx="2.2" ry="2.7" stroke-width="1.34"/>
<ellipse cx="342.9" cy="582.3" rx="2.2" ry="2.7" stroke-width="1.34"/>
<ellipse cx="374.8" cy="588.1" rx="2.2" ry="2.7" stroke-width="1.34"/>
<ellipse cx="401.4" cy="579.2" rx="2.2" ry="2.7" stroke-width="1.34"/>
<ellipse cx="482.1" cy="602.8" rx="2.2" ry="2.7" stroke-width="1.34"/>
<ellipse cx="477.9" cy="628.5" rx="2.2" ry="2.7" stroke-width="1.34"/>
<ellipse cx="510.6" cy="622.4" rx="2.2" ry="2.7" stroke-width="1.34"/>
<ellipse cx="509.2" cy="647" rx="2.2" ry="2.7" stroke-width="1.34"/>
<ellipse cx="496" cy="665.5" rx="2.2" ry="2.7" stroke-width="1.34"/>
<ellipse cx="463.6" cy="670.8" rx="2.2" ry="2.7" stroke-width="1.34"/>
<ellipse cx="429" cy="653.8" rx="2.2" ry="2.7" stroke-width="1.34"/>
<ellipse cx="406.7" cy="620.3" rx="2.2" ry="2.7" stroke-width="1.34"/>
<path d="M197.5,590.3 C198.2,589.4 197.2,589.3 201.1,587.5 C205.0,585.7 232.8,573.5 236.9,572.5 C241.0,571.5 241.2,576.6 242.0,577.6 C242.8,578.6 242.5,580.6 244.5,582.0 C246.5,583.4 259.1,590.4 262.0,591.6 C264.9,592.8 272.3,593.7 273.7,593.8 C275.1,593.9 275.5,592.0 276.1,592.2 C276.7,592.4 278.5,595.3 279.3,596.2 C280.1,597.1 282.8,600.6 284.1,601.0 C285.4,601.4 290.3,600.1 292.0,600.2 C293.7,600.3 299.4,601.3 300.8,601.7 C302.2,602.1 304.2,602.7 305.6,604.1 C307.0,605.5 313.8,613.2 315.2,615.3 C316.6,617.4 318.6,622.7 320.0,624.9 C321.4,627.1 328.1,635.5 329.5,637.6 C330.9,639.7 333.3,644.2 334.3,645.6 C335.3,647.0 338.3,650.7 339.1,651.2 C339.9,651.7 341.8,650.1 342.3,650.4 C342.8,650.7 343.3,653.2 344.1,654.1 C344.9,655.0 348.2,658.2 350.2,659.4 C352.2,660.6 361.7,664.9 363.8,666.2 C365.9,667.5 370.3,670.9 371.4,672.3 C372.5,673.7 373.9,678.4 374.4,679.8 C374.8,681.2 375.9,684.4 375.9,685.9 C375.9,687.4 374.4,692.7 374.4,695.0 C374.4,697.3 375.9,706.8 375.9,708.6 C375.9,710.4 375.0,712.4 374.4,713.2 C373.8,714.0 371.6,715.1 369.8,716.2 C368.0,717.3 358.0,722.4 356.2,723.8 C354.4,725.2 352.3,728.6 351.7,729.8 C351.1,731.0 350.8,735.1 350.2,735.9 C349.6,736.7 346.5,737.9 345.6,737.8 C344.7,737.6 342.0,735.0 341.1,734.4 C340.2,733.8 337.9,732.5 336.5,732.1 C335.1,731.7 328.9,731.1 327.4,730.6 C325.9,730.1 322.5,727.1 321.4,726.8 C320.3,726.5 317.6,727.1 316.8,728.0 C316.0,728.9 314.1,734.7 313.0,735.5 C311.9,736.3 307.5,736.5 306.0,736.0 C304.5,735.5 299.7,731.4 298.0,730.0 C296.3,728.6 290.8,723.6 289.0,722.5 C287.2,721.4 282.1,719.5 280.0,719.0 C277.9,718.5 270.8,718.7 268.0,718.0 C265.2,717.3 254.8,713.5 252.0,712.0 C249.2,710.5 241.7,705.2 240.0,703.0 C238.3,700.8 235.8,693.2 235.0,690.0 C234.2,686.8 233.3,673.5 232.4,671.0 C231.5,668.5 227.3,666.4 226.0,665.0 C224.7,663.6 220.3,657.5 219.1,656.9 C217.8,656.3 214.8,659.1 213.5,659.2 C212.2,659.3 207.0,658.6 205.7,658.1 C204.4,657.6 201.1,655.4 200.1,654.7 C199.1,654.0 196.5,651.2 195.6,650.8 C194.7,650.3 191.9,650.6 191.2,650.2 C190.5,649.8 189.1,647.7 188.9,646.9 C188.7,646.1 189.5,643.3 189.5,642.4 C189.5,641.5 189.2,639.0 188.9,638.0 C188.6,637.0 186.4,633.7 186.1,632.4 C185.8,631.1 185.5,625.9 185.6,624.6 C185.7,623.3 186.3,620.0 186.7,619.0 C187.1,618.0 189.2,615.3 190.0,614.5 C190.8,613.7 193.8,611.8 194.5,611.2 C195.2,610.6 196.7,609.5 196.7,608.9 C196.7,608.3 194.8,606.3 194.5,605.6 C194.2,604.9 193.4,603.2 193.4,602.2 C193.4,601.2 194.1,597.2 194.5,596.0 C194.9,594.8 196.8,591.1 197.5,590.3 Z" fill="#fdfdfd" stroke-width="1.68"/>
<path d="M201.1,589.7 L236.9,572.5" stroke-width="1.80" />
<path d="M209.4,601.5 L212.6,596 L238.1,585.2" stroke-width="1.34" />
<path d="M212.6,599.3 L257.3,618.4" stroke-width="1.67" />
<path d="M210.7,603.7 L220.9,621.6 L238.1,614 M219,620.3 L226,628" stroke-width="1.34" />
<path d="M194.8,602.4 L199.9,610.1 L219,620.3" stroke-width="1.34" />
<path d="M193.4,603.3 L212.4,620.1 L222.4,626.8" stroke-width="1.12" />
<path d="M244.5,582 L246,590 L262,596 L273.7,593.8" stroke-width="1.12" />
<path d="M238.1,614 L245,608 L262,605" stroke-width="1.12" />
<path d="M259.4,616.1 L292,600.2 M266.5,628.1 L297.6,616.1" stroke-width="1.80" />
<path d="M292,600.2 C296,601 299,610 297.6,616.1" stroke-width="1.23" />
<path d="M269.7,627.3 L297,616.5" stroke-width="1.12" />
<path d="M297.6,608.9 L301.6,608.1 L315,622 L318,630 L312.8,627.3 L304,632 L299.2,632.8 L297.6,616.1" stroke-width="1.23" />
<path d="M312.8,627.3 C318,636 322,646 324.7,655.2" stroke-width="1.34" />
<path d="M318.4,620.9 C324,632 328,642 330,652" stroke-width="1.23" />
<path d="M322.4,627.4 C326,636 330,644 332.5,650.8" stroke-width="1.12" />
<path d="M297.9,609 L299.5,622 L301.2,635.2 C304,637 306,638 307,641" stroke-width="1.23" />
<path d="M288.1,650.4 L308.8,642.4" stroke-width="1.23" />
<path d="M267.3,628.9 L281.7,648.8 L291.3,661.6" stroke-width="1.34" />
<path d="M262,629 L273,648 L287,663" stroke-width="1.12" />
<path d="M298.6,664.7 L341.8,649.5 M301.7,673.8 L343.3,656.4 M305,668 L342,653" stroke-width="1.34" />
<path d="M230,631.5 L257,619.5 M231.5,639.5 L258,627.5" stroke-width="1.34" />
<path d="M229.5,641 L231,660 M224.5,640.5 L227.5,660" stroke-width="1.23" />
<path d="M257.5,627.5 L236.5,660.5 M263,628.5 L240.5,662" stroke-width="1.34" />
<path d="M236,642 L250,636 L241,652 Z" stroke-width="1.12" />
<path d="M199,609.5 C204,612 210,611 214,607" stroke-width="1.12" />
<path d="M214.5,611 L223,630" stroke-width="1.12" />
<path d="M226.9,641 L237,652 L246,646 L238,632 Z" stroke-width="1.23" />
<path d="M240,631 L250,646 L258,640 L251,626 Z" stroke-width="1.12" />
<path d="M230.2,642.4 L232.5,653.6 M234,644 L236,655" stroke-width="1.12" />
<ellipse cx="203.7" cy="596.1" rx="5.2" ry="6.24" fill="#fdfdfd" stroke-width="1.68"/>
<ellipse cx="203.39999999999998" cy="596.4" rx="2.08" ry="2.496" fill="#000" fill-opacity="0.35" stroke-width="1.23"/>
<ellipse cx="261" cy="622.5" rx="5" ry="6.0" fill="#fdfdfd" stroke-width="1.68"/>
<ellipse cx="260.7" cy="622.8" rx="2.0" ry="2.4" fill="#000" fill-opacity="0.35" stroke-width="1.23"/>
<ellipse cx="226.9" cy="635.7" rx="4.4" ry="5.28" fill="#fdfdfd" stroke-width="1.68"/>
<ellipse cx="226.6" cy="636.0" rx="1.7600000000000002" ry="2.112" fill="#000" fill-opacity="0.35" stroke-width="1.23"/>
<ellipse cx="232.5" cy="665" rx="4.6" ry="5.52" fill="#fdfdfd" stroke-width="1.68"/>
<ellipse cx="232.2" cy="665.3" rx="1.8399999999999999" ry="2.2079999999999997" fill="#000" fill-opacity="0.35" stroke-width="1.23"/>
<ellipse cx="291" cy="714.7" rx="4.5" ry="5.3999999999999995" fill="#fdfdfd" stroke-width="1.68"/>
<ellipse cx="290.7" cy="715.0" rx="1.8" ry="2.16" fill="#000" fill-opacity="0.35" stroke-width="1.23"/>
<ellipse cx="309.2" cy="731.4" rx="4.4" ry="5.28" fill="#fdfdfd" stroke-width="1.68"/>
<ellipse cx="308.9" cy="731.6999999999999" rx="1.7600000000000002" ry="2.112" fill="#000" fill-opacity="0.35" stroke-width="1.23"/>
<ellipse cx="345.6" cy="735.6" rx="3.4" ry="4.08" fill="#fdfdfd" stroke-width="1.68"/>
<ellipse cx="345.3" cy="735.9" rx="1.36" ry="1.632" fill="#000" fill-opacity="0.35" stroke-width="1.23"/>
<ellipse cx="306.4" cy="623.3" rx="1.9" ry="2.28" stroke-width="1.34"/>
<ellipse cx="192.8" cy="648" rx="1.8" ry="2.16" stroke-width="1.34"/>
<ellipse cx="366.8" cy="690.5" rx="1.9" ry="2.28" stroke-width="1.34"/>
<ellipse cx="364.5" cy="713.9" rx="2.2" ry="2.64" stroke-width="1.34"/>
<path d="M206.8,622.9 L216.8,624 C219.5,625.5 219.5,632 218,633.5 L209,635.7 Z" fill="#fdfdfd" stroke-width="1.46"/>
<ellipse cx="206.2" cy="629" rx="4.5" ry="6.1" fill="#fdfdfd" stroke-width="1.68"/>
<ellipse cx="206" cy="629.4" rx="1.7" ry="2.1" stroke-width="1.23"/>
<path d="M191.2,622.3 L196.7,618.5 L199,633 L193.5,636" stroke-width="1.23" />
<path d="M213.5,641.3 C207,641 202.3,644.7 202.8,648.5 C203.2,652 207,653.5 213.5,652.5" stroke-width="1.80" />
<path d="M212,643.5 C208,643.5 205,646 205.3,648.5 C205.6,651 208,651.5 212,650.5" stroke-width="1.12" />
<path d="M186.7,619 L190,624 L190,640" stroke-width="0.90" />
<path d="M340.8,692 L340.8,677 C341,671.5 347,671.5 347.2,677 L347.5,693 M351,698.5 L351,680 C351.3,674.5 357.2,674.5 357.4,680 L357.6,699 M359.6,698 L359.4,683 C359.6,680 361,680 361.2,683" stroke-width="1.67" />
<path d="M329.5,662.5 L337,661 C338.5,661.5 338.5,672 337.5,673.5 L330.5,674 C329,673 328.5,664 329.5,662.5 Z" stroke-width="1.23" />
<path d="M329.7,677.6 L336,677 L336.5,685 L330,685.5 Z" stroke-width="1.23" />
<ellipse cx="330.5" cy="697.3" rx="4.5" ry="6" stroke-width="1.57"/>
<path d="M303.2,675.3 L316,700 L322,715" stroke-width="1.23" />
<path d="M307,673 C312,680 318,688 326,692" stroke-width="1.12" />
<path d="M306.2,685.9 L315,712" stroke-width="1.12" />
<path d="M345.6,661.7 L360.8,667.7 C365,670 368,675 368.3,675.3 L369.8,682.9" stroke-width="1.23" />
<path d="M347,665.5 L359,670.5 C363,673 365.5,677 366,683" stroke-width="1.12" />
<path d="M350.2,727.6 L360.8,719.2 L367,712" stroke-width="1.23" />
<path d="M307.7,725.3 L321.7,721.4 C324,722 325.5,726 324.2,729 L309.5,735.8" stroke-width="1.34" />
<path d="M301,676 L308.5,681.5 L322,691 L325,694 M307.5,697 L315,703.5 L322,705" stroke-width="1.23" />
<path d="M294.1,716.2 L315.3,723.8 M296,720.5 L309,727" stroke-width="1.23" />
<path d="M286,712 L291,707 L300,709 L316.8,722.3" stroke-width="1.12" />
<path d="M336.5,732.1 L342,726 L356,722" stroke-width="1.12" />
<path d="M261.8,652.3 L291.7,661 C300,668 305,678 303,690 C301,698 298,703 294,706 L270,716 Z" fill="#fdfdfd" stroke-width="1.57"/>
<path d="M291.7,661 C296,672 297,690 292,704" stroke-width="1.12" />
<ellipse cx="294.1" cy="669.2" rx="5.2" ry="6.2" fill="#fdfdfd" stroke-width="1.68"/>
<ellipse cx="293.8" cy="669.5" rx="2.1" ry="2.5" fill="#000" fill-opacity="0.35" stroke-width="1.23"/>
<ellipse cx="260.5" cy="687" rx="24" ry="30" fill="#fdfdfd" stroke-width="1.68" transform="rotate(-12 260.5 687)"/>
<ellipse cx="259.5" cy="687.5" rx="20.5" ry="26" stroke-width="1.23" transform="rotate(-12 259.5 687.5)"/>
<ellipse cx="258.5" cy="688" rx="18.5" ry="23.5" stroke-width="1.12" transform="rotate(-12 258.5 688)"/>
<path d="M251.3,681.3 L259,679 C263,680 264,690 262,696 L252,700.5 Z" fill="#fdfdfd" stroke-width="1.46"/>
<ellipse cx="251.3" cy="690.9" rx="7.9" ry="9.6" fill="#fdfdfd" stroke-width="1.57" transform="rotate(-12 251.3 690.9)"/>
<ellipse cx="250.6" cy="691.4" rx="4.4" ry="5.3" stroke-width="1.46" transform="rotate(-12 250.6 691.4)"/>
<path d="M257.8,728.8 L259.1,726.9 L263.6,726.9 L266.8,730.1 L267.4,732 L272.5,731.4 L274.4,733.9 L281.4,746.7 L280.8,751.2 L276.3,752.4 L270,741.6 L264.9,739.7 L258.5,742.9 L248.3,745.4 L255.3,739 L257.8,736.5 Z" fill="#fdfdfd" stroke-width="1.46"/>
<path d="M257.8,736.5 L267.4,732 M270,741.6 L272.5,735" stroke-width="1.12" />
<ellipse cx="260.6" cy="730.6" rx="1.4" ry="1.8" stroke-width="1.12"/>
<ellipse cx="276.3" cy="748.3" rx="1.4" ry="1.8" stroke-width="1.12"/>
<ellipse cx="266.8" cy="753.1" rx="4.6" ry="5.1" stroke-width="1.79"/>
<ellipse cx="266.2" cy="753.2" rx="1.8" ry="2.4" stroke-width="1.23"/>
<path d="M243.8,761.4 L257.2,755 C260,755.5 260.5,758 259.1,758.8 L247,767.1 Z" fill="#fdfdfd" stroke-width="1.46"/>
<path d="M248.3,759.8 C249.4,761.0 249.4,763.5 248.7,764.8 M250.8,758.7 C251.9,759.9 251.9,762.4 251.2,763.5 M253.4,757.5 C254.5,758.7 254.5,761.2 253.8,762.2 M255.9,756.4 C257.0,757.6 257.0,760.1 256.3,761.0" stroke-width="0.90" />
<path d="M236,761 L240.5,759.8 L245,762 L245.5,767.5 L242,770.5 L237.5,770 L234.9,766 Z" fill="#fdfdfd" stroke-width="1.57"/>
<path d="M240.5,759.8 L240,765 L237.5,770 M240,765 L245.5,767.5" stroke-width="0.90" />
<path d="M344.4,756.5 L376,744.3 C379.5,744.5 380,749 378,750 L347.2,764.4 Z" fill="#fdfdfd" stroke-width="1.57"/>
<path d="M360.3,750.8 C361.8,752.2 361.8,755.6 360.8,757.2 M363.9,749.5 C365.4,750.9 365.4,754.3 364.4,755.7 M367.5,748.1 C369.0,749.5 369.0,752.9 368.0,754.2 M371.1,746.8 C372.6,748.2 372.6,751.6 371.6,752.7 M374.5,745.5 C376.0,746.9 376.0,750.3 375.0,751.2" stroke-width="1.12" />
<path d="M337,759 L342,756 L348,757.5 L349.5,764.5 L347,769.5 L341.5,770.5 L336.5,767 L335.7,762 Z" fill="#fdfdfd" stroke-width="1.68"/>
<path d="M342,756 L342.5,763.5 L341.5,770.5 M342.5,763.5 L349.5,764.5" stroke-width="1.12" />
<ellipse cx="387.6" cy="739.3" rx="4.6" ry="6" stroke-width="2.46" transform="rotate(-10 387.6 739.3)"/>
<ellipse cx="387.2" cy="739.6" rx="1.6" ry="2.3" stroke-width="1.12"/>
<ellipse cx="402.9" cy="733.6" rx="3.6" ry="5.2" stroke-width="1.90" transform="rotate(-10 402.9 733.6)"/>
<ellipse cx="402.6" cy="733.8" rx="1.3" ry="2.2" stroke-width="0.90"/>
<!-- ===== LEADER LINES ===== -->
<g stroke-width="1.2">
<path d="M143.6,134.1 V156"/>
<path d="M218,152.8 V176.5"/>
<path d="M270.8,112.9 H305.5"/>
<path d="M432.2,64.7 V79.5"/>
<path d="M460.7,52.2 V68"/>
<path d="M222.5,403.5 V416"/>
<path d="M331.3,374.5 V393"/>
<path d="M402.7,390 V413"/>
<path d="M424.6,382 V406"/>
<path d="M100.6,506.7 V526.5"/>
<path d="M245.4,507 V527"/>
<path d="M279.8,494.8 V513"/>
<path d="M350.9,485.7 V506"/>
<path d="M445.5,515 V542.5"/>
<path d="M93.9,585.3 H111"/>
<path d="M171,570.5 V597"/>
<path d="M296.6,572 V598"/>
<path d="M234.2,735.8 H254.7"/>
<path d="M250.8,765.8 V773.5"/>
<path d="M268.9,758.8 V773"/>
<path d="M358,751 V774"/>
<path d="M390.2,747 V764.5"/>
<path d="M404.8,741 V751.5"/>
</g>

</g>

<text x="144" y="131.7">2</text>
<text x="218.5" y="150.9">9</text>
<text x="266.1" y="117.2">3</text>
<text x="432.2" y="61.8">5</text>
<text x="459.5" y="50.3">4</text>
<text x="222" y="398.5">1</text>
<text x="331.6" y="372.8">14</text>
<text x="403" y="388.2">11</text>
<text x="425.9" y="380.2">12</text>
<text x="100.7" y="504.4">6</text>
<text x="246.2" y="537.9">7</text>
<text x="280.6" y="524.3">8</text>
<text x="351.2" y="516.8">10</text>
<text x="445.5" y="513.3">16</text>
<text x="86.5" y="589.4">13</text>
<text x="170.7" y="609.4">5</text>
<text x="297.4" y="570.3">15</text>
<text x="224.4" y="739.7">22</text>
<text x="248" y="784.3">24</text>
<text x="270.2" y="784.3">23</text>
<text x="357.7" y="785.2" letter-spacing="0.7">18-20</text>
<text x="389.9" y="774.2">21</text>
<text x="404.2" y="761.5">17</text>
</svg>
</body></html>
